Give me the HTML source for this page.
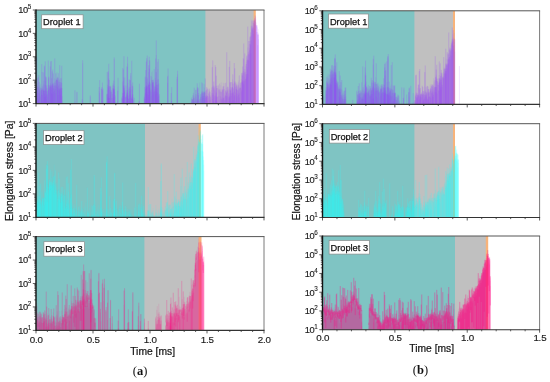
<!DOCTYPE html>
<html><head><meta charset="utf-8"><title>Elongation stress</title>
<style>html,body{margin:0;padding:0;background:#fff;}body{width:550px;height:382px;overflow:hidden;font-family:"Liberation Sans",sans-serif;}</style>
</head><body>
<svg width="550" height="382" viewBox="0 0 550 382" style="display:block">
<rect width="550" height="382" fill="#fff"/>
<g>
<rect x="36.0" y="10.0" width="219.80" height="93.60" fill="#f7b37a"/>
<rect x="36.0" y="10.0" width="217.60" height="93.60" fill="#c0c0c0"/>
<rect x="36.0" y="10.0" width="169.40" height="93.60" fill="#7fc4c3"/>
<path transform="translate(36.0 103.6)" d="M0.75 0v-12.9M1.25 0v-12.2M1.75 0v-10.2M2.25 0v-16.3M2.75 0v-9.4M3.25 0v-14.3M3.75 0v-13.9M4.25 0v-6.9M4.75 0v-19.7M5.25 0v-3.7M5.75 0v-8.8M6.25 0v-8.2M6.75 0v-1.9M7.25 0v-18.3M7.75 0v-12.3M8.25 0v-13.2M8.75 0v-12.4M9.25 0v-18.6M9.75 0v-26.3M10.25 0v-12.9M10.75 0v-3.8M11.25 0v-18.7M11.75 0v-6.7M12.25 0v-2.5M12.75 0v-26.1M13.25 0v-18.1M13.75 0v-14.3M14.25 0v-20.6M14.75 0v-18.6M15.25 0v-15.6M15.75 0v-17.6M16.25 0v-20.8M16.75 0v-18.3M17.25 0v-15.1M17.75 0v-15.6M18.25 0v-12.4M18.75 0v-18.5M19.25 0v-20.6M19.75 0v-10.4M20.25 0v-23.3M20.75 0v-23.7M21.25 0v-16.0M21.75 0v-22.7M22.25 0v-17.1M22.75 0v-21.8M23.25 0v-21.6M23.75 0v-15.0M24.25 0v-8.0M24.75 0v-9.2M25.25 0v-15.9M25.75 0v-15.3M71.25 0v-8.8M71.75 0v-18.9M72.25 0v-18.0M72.75 0v-7.8M73.25 0v-13.4M73.75 0v-16.8M74.25 0v-17.0M74.75 0v-8.4M75.25 0v-13.4M75.75 0v-1.2M76.25 0v-3.5M76.75 0v-20.5M77.25 0v-15.0M77.75 0v-15.1M78.25 0v-13.4M78.75 0v-11.2M79.25 0v-8.0M85.75 0v-6.0M86.25 0v-10.9M86.75 0v-21.4M87.25 0v-7.5M87.75 0v-17.7M88.75 0v-13.2M89.75 0v-18.2M90.25 0v-7.1M90.75 0v-17.3M91.25 0v-13.1M91.75 0v-20.2M92.25 0v-5.3M92.75 0v-4.7M93.25 0v-5.0M93.75 0v-12.1M94.25 0v-2.0M94.75 0v-19.2M95.25 0v-7.2M95.75 0v-6.0M96.25 0v-5.4M96.75 0v-6.7M97.25 0v-4.2M108.25 0v-6.6M108.75 0v-8.9M109.25 0v-10.4M109.75 0v-10.9M110.25 0v-18.4M110.75 0v-15.6M111.25 0v-18.2M111.75 0v-6.6M112.25 0v-8.9M112.75 0v-19.5M113.25 0v-15.0M113.75 0v-15.8M114.25 0v-11.0M114.75 0v-13.9M115.25 0v-27.4M115.75 0v-26.2M116.25 0v-23.6M116.75 0v-21.1M117.25 0v-23.3M117.75 0v-11.3M118.25 0v-12.4M118.75 0v-11.7M119.25 0v-17.4M119.75 0v-23.6M120.25 0v-11.8M120.75 0v-21.4M121.25 0v-23.7M121.75 0v-18.9M122.75 0v-4.0M155.25 0v-5.4M155.75 0v-4.5M156.25 0v-3.7M156.75 0v-3.8M157.25 0v-4.7M157.75 0v-10.9M158.25 0v-5.8M159.75 0v-13.5M160.25 0v-5.9M161.25 0v-15.3M161.75 0v-13.9M162.25 0v-3.7M162.75 0v-8.4M163.25 0v-2.6M164.75 0v-6.8M165.25 0v-12.0M166.25 0v-6.3M166.75 0v-10.4M167.25 0v-5.4M167.75 0v-10.8M168.25 0v-11.5M168.75 0v-10.0M169.25 0v-7.3M169.75 0v-5.9M170.25 0v-8.4M170.75 0v-7.7M171.25 0v-7.6M171.75 0v-7.4M172.25 0v-5.7M172.75 0v-13.9M173.25 0v-9.7M173.75 0v-3.5M174.25 0v-11.4M174.75 0v-8.1M175.75 0v-10.4M176.25 0v-16.4M176.75 0v-8.5M177.25 0v-18.3M177.75 0v-6.1M178.25 0v-14.9M178.75 0v-17.7M179.25 0v-8.7M179.75 0v-5.8M180.25 0v-3.3M180.75 0v-6.8M181.25 0v-6.8M182.25 0v-18.3M183.25 0v-14.4M183.75 0v-20.1M184.25 0v-14.6M184.75 0v-4.5M185.25 0v-7.0M185.75 0v-4.9M186.25 0v-13.0M186.75 0v-17.2M187.25 0v-5.8M187.75 0v-5.0M188.25 0v-14.4M188.75 0v-2.8M189.25 0v-8.1M189.75 0v-13.3M190.25 0v-10.7M190.75 0v-6.3M191.25 0v-12.9M191.75 0v-16.3M192.25 0v-6.7M192.75 0v-9.7M193.25 0v-1.8M193.75 0v-6.2M194.25 0v-13.2M194.75 0v-16.4M195.25 0v-7.3M195.75 0v-11.1M196.25 0v-10.5M196.75 0v-24.3M197.25 0v-19.7M197.75 0v-14.0M198.25 0v-8.0M198.75 0v-21.2M199.25 0v-2.3M199.75 0v-16.6M200.25 0v-14.2M200.75 0v-6.1M201.25 0v-10.0M201.75 0v-16.4M202.25 0v-9.4M202.75 0v-11.9M203.25 0v-14.9M203.75 0v-15.0M204.25 0v-15.5M204.75 0v-21.1M205.25 0v-11.5M205.75 0v-21.9M206.25 0v-30.7M206.75 0v-23.5M207.25 0v-19.9M207.75 0v-32.5M208.25 0v-22.1M208.75 0v-30.9M209.25 0v-34.0M209.75 0v-37.7M210.25 0v-29.1M210.75 0v-26.9M211.25 0v-36.7M211.75 0v-56.1M212.25 0v-51.3M212.75 0v-51.9M213.25 0v-59.2M213.75 0v-53.2M214.25 0v-59.2M214.75 0v-50.2M215.25 0v-68.0M215.75 0v-76.7M216.25 0v-83.3M216.75 0v-78.0M217.25 0v-69.6M217.75 0v-80.7M218.25 0v-79.4M218.75 0v-82.7M219.25 0v-88.5M219.75 0v-84.4M220.25 0v-78.7M220.75 0v-71.5M221.25 0v-78.5M221.75 0v-58.4M222.25 0v-74.4M38.95 0v-2.3M40.95 0v-11.2M46.15 0v-2.3M46.65 0v-40.3M54.25 0v-6.8M63.15 0v-12.1M63.65 0v-10.6M65.45 0v-14.7M65.95 0v-2.3M66.45 0v-13.7M66.95 0v-12.7M72.25 0v-30.7M72.75 0v-25.1M77.75 0v-14.6M78.25 0v-44.2M81.55 0v-2.3M82.05 0v-16.9M87.45 0v-26.2M87.95 0v-15.6M91.05 0v-36.7M91.55 0v-39.9M94.15 0v-22.9M94.65 0v-27.9M96.15 0v-3.8M96.65 0v-8.4M102.95 0v-2.3M103.45 0v-2.3M110.75 0v-43.2M111.25 0v-24.6M112.75 0v-31.4M113.25 0v-43.4M119.75 0v-36.6M120.25 0v-48.6M121.75 0v-34.6M122.25 0v-24.1M131.55 0v-20.8M132.05 0v-27.9M135.15 0v-2.3M135.65 0v-2.3M141.05 0v-24.5M141.55 0v-29.5" stroke="#9a3dff" stroke-width="0.5" stroke-opacity="0.21" fill="none"/>
<path transform="translate(36.0 103.6)" d="M0.75 0v-20.6M1.25 0v-16.9M1.75 0v-15.1M2.25 0v-7.2M2.75 0v-5.2M3.25 0v-16.2M3.75 0v-13.3M4.25 0v-1.6M4.75 0v-16.4M5.25 0v-15.1M5.75 0v-11.3M6.25 0v-17.6M6.75 0v-16.3M7.25 0v-3.6M7.75 0v-19.7M8.25 0v-6.4M8.75 0v-10.1M9.25 0v-13.9M9.75 0v-6.5M10.25 0v-18.2M10.75 0v-16.9M11.25 0v-12.1M11.75 0v-10.1M12.25 0v-13.4M12.75 0v-18.7M13.25 0v-18.0M13.75 0v-10.9M14.25 0v-17.6M14.75 0v-16.4M15.25 0v-13.5M15.75 0v-10.5M16.25 0v-9.2M16.75 0v-18.8M17.25 0v-11.7M17.75 0v-17.5M18.25 0v-14.3M18.75 0v-25.0M19.25 0v-22.2M19.75 0v-17.7M20.25 0v-24.7M20.75 0v-31.2M21.25 0v-23.2M21.75 0v-19.7M22.25 0v-8.5M22.75 0v-17.8M23.25 0v-12.2M23.75 0v-19.5M24.25 0v-15.9M24.75 0v-18.6M25.25 0v-25.7M25.75 0v-15.2M26.25 0v-7.4M70.75 0v-9.0M71.25 0v-9.9M71.75 0v-6.0M72.25 0v-16.8M72.75 0v-5.1M73.25 0v-5.0M73.75 0v-2.6M74.25 0v-16.8M74.75 0v-12.5M75.25 0v-11.4M75.75 0v-5.5M76.25 0v-5.2M76.75 0v-9.7M77.25 0v-3.8M77.75 0v-19.6M78.75 0v-8.6M79.25 0v-6.7M85.75 0v-5.7M86.25 0v-7.6M86.75 0v-5.3M87.25 0v-22.5M88.25 0v-14.8M88.75 0v-1.2M89.25 0v-6.6M89.75 0v-6.4M90.25 0v-3.0M90.75 0v-10.5M91.25 0v-13.3M91.75 0v-8.2M92.25 0v-10.1M92.75 0v-15.0M93.25 0v-16.9M93.75 0v-13.9M94.25 0v-16.6M94.75 0v-13.9M95.25 0v-5.2M95.75 0v-4.7M96.25 0v-13.8M96.75 0v-9.5M97.25 0v-3.2M108.25 0v-7.3M108.75 0v-16.6M109.25 0v-25.8M109.75 0v-14.4M110.25 0v-17.5M110.75 0v-16.9M111.25 0v-16.6M111.75 0v-10.9M112.25 0v-19.0M112.75 0v-18.7M113.25 0v-21.9M113.75 0v-21.1M114.25 0v-19.9M114.75 0v-19.2M115.25 0v-13.7M115.75 0v-31.5M116.25 0v-20.8M116.75 0v-17.7M117.25 0v-8.8M117.75 0v-18.2M118.25 0v-16.3M118.75 0v-17.6M119.25 0v-14.1M119.75 0v-20.8M120.25 0v-16.5M120.75 0v-19.1M121.25 0v-18.6M121.75 0v-6.5M122.25 0v-24.3M122.75 0v-7.7M155.25 0v-1.5M155.75 0v-6.6M156.25 0v-4.4M156.75 0v-8.4M157.25 0v-10.2M157.75 0v-8.5M158.75 0v-2.0M159.25 0v-7.0M160.25 0v-8.9M160.75 0v-3.9M161.25 0v-2.2M161.75 0v-15.8M162.25 0v-10.4M163.25 0v-4.1M163.75 0v-20.8M165.25 0v-4.3M166.75 0v-12.6M167.25 0v-9.1M167.75 0v-12.4M168.25 0v-16.1M168.75 0v-12.2M169.25 0v-7.4M169.75 0v-10.7M170.25 0v-6.3M170.75 0v-7.0M171.25 0v-8.1M171.75 0v-3.2M172.75 0v-6.9M173.25 0v-14.9M174.25 0v-4.2M174.75 0v-6.3M175.25 0v-13.4M176.25 0v-4.3M176.75 0v-10.7M177.25 0v-9.2M177.75 0v-2.0M178.25 0v-7.6M178.75 0v-16.5M179.25 0v-3.0M179.75 0v-13.3M180.25 0v-11.4M180.75 0v-15.6M181.25 0v-1.0M181.75 0v-6.6M182.25 0v-7.7M182.75 0v-14.8M183.25 0v-19.7M183.75 0v-13.2M184.25 0v-7.2M184.75 0v-18.3M185.25 0v-21.2M185.75 0v-3.4M186.25 0v-3.9M186.75 0v-6.1M187.25 0v-16.8M187.75 0v-5.4M188.25 0v-20.4M188.75 0v-6.5M189.25 0v-7.8M189.75 0v-12.6M190.25 0v-15.7M190.75 0v-11.2M191.25 0v-16.4M191.75 0v-17.3M192.25 0v-14.2M192.75 0v-10.7M193.25 0v-6.2M193.75 0v-7.7M194.25 0v-21.6M194.75 0v-13.9M195.25 0v-14.2M195.75 0v-9.8M196.25 0v-21.6M196.75 0v-3.1M197.25 0v-3.4M197.75 0v-11.9M198.25 0v-22.0M198.75 0v-17.2M199.25 0v-8.5M199.75 0v-20.7M200.25 0v-14.4M200.75 0v-18.6M201.25 0v-13.2M201.75 0v-19.7M202.25 0v-21.2M202.75 0v-8.4M203.25 0v-5.8M203.75 0v-15.9M204.25 0v-18.8M204.75 0v-20.8M205.25 0v-15.2M205.75 0v-13.1M206.25 0v-29.0M206.75 0v-31.7M207.25 0v-30.3M207.75 0v-44.4M208.25 0v-26.8M208.75 0v-22.7M209.25 0v-28.8M209.75 0v-24.2M210.25 0v-41.8M210.75 0v-29.3M211.25 0v-34.0M211.75 0v-29.7M212.25 0v-43.6M212.75 0v-48.7M213.25 0v-49.8M213.75 0v-66.1M214.25 0v-62.6M214.75 0v-59.7M215.25 0v-63.3M215.75 0v-75.2M216.25 0v-74.3M216.75 0v-77.0M217.25 0v-75.9M217.75 0v-72.7M218.25 0v-83.0M218.75 0v-74.7M219.25 0v-81.9M219.75 0v-78.9M220.25 0v-78.4M220.75 0v-77.4M221.25 0v-71.5M221.75 0v-69.2M222.25 0v-64.4" stroke="#9a3dff" stroke-width="0.5" stroke-opacity="0.21" fill="none"/>
<path transform="translate(36.0 103.6)" d="M0.75 0v-19.8M1.25 0v-1.7M1.75 0v-17.2M2.25 0v-3.4M2.75 0v-3.4M3.25 0v-10.3M3.75 0v-18.3M4.25 0v-12.5M4.75 0v-15.3M5.25 0v-15.0M5.75 0v-13.4M6.25 0v-14.8M6.75 0v-13.8M7.25 0v-14.3M7.75 0v-22.7M8.25 0v-12.5M8.75 0v-9.3M9.25 0v-23.1M9.75 0v-7.5M10.25 0v-11.9M10.75 0v-8.8M11.25 0v-8.7M11.75 0v-12.7M12.25 0v-15.1M12.75 0v-25.0M13.25 0v-16.0M13.75 0v-16.0M14.25 0v-17.6M14.75 0v-19.7M15.25 0v-18.5M15.75 0v-17.3M16.25 0v-19.4M16.75 0v-19.8M17.25 0v-20.2M17.75 0v-18.8M18.25 0v-9.8M18.75 0v-17.1M19.25 0v-13.8M19.75 0v-17.8M20.25 0v-23.4M20.75 0v-24.1M21.25 0v-27.0M21.75 0v-12.8M22.25 0v-15.6M22.75 0v-25.9M23.25 0v-14.3M23.75 0v-13.9M24.25 0v-15.1M24.75 0v-14.9M25.25 0v-12.0M25.75 0v-20.4M26.25 0v-3.1M70.75 0v-9.3M71.25 0v-13.3M71.75 0v-9.6M72.25 0v-15.4M72.75 0v-17.1M73.25 0v-5.2M73.75 0v-7.3M74.25 0v-10.8M74.75 0v-18.3M75.25 0v-13.8M75.75 0v-11.5M76.25 0v-9.5M76.75 0v-18.0M77.25 0v-18.3M77.75 0v-5.9M78.75 0v-14.1M86.25 0v-4.4M86.75 0v-10.0M87.25 0v-10.5M88.25 0v-16.7M88.75 0v-12.9M89.25 0v-5.9M89.75 0v-1.5M90.25 0v-8.3M90.75 0v-9.0M91.25 0v-6.0M91.75 0v-1.8M92.25 0v-7.4M92.75 0v-4.0M93.25 0v-15.9M93.75 0v-8.6M94.25 0v-9.2M95.75 0v-3.9M96.25 0v-8.9M108.25 0v-4.8M108.75 0v-4.3M109.25 0v-16.0M109.75 0v-15.1M110.25 0v-17.6M110.75 0v-21.4M111.25 0v-9.0M111.75 0v-16.9M112.25 0v-20.7M112.75 0v-17.8M113.25 0v-18.3M113.75 0v-21.2M114.25 0v-12.6M114.75 0v-27.7M115.25 0v-7.0M115.75 0v-11.2M116.25 0v-32.8M116.75 0v-20.3M117.25 0v-20.2M117.75 0v-21.4M118.25 0v-13.8M118.75 0v-16.1M119.25 0v-25.2M119.75 0v-9.2M120.25 0v-18.6M120.75 0v-15.1M121.25 0v-11.3M121.75 0v-15.3M122.25 0v-10.9M155.75 0v-0.8M156.25 0v-3.8M156.75 0v-2.7M157.25 0v-6.8M158.25 0v-2.6M159.25 0v-4.1M159.75 0v-9.5M161.25 0v-16.7M161.75 0v-3.7M162.25 0v-8.1M162.75 0v-10.4M163.75 0v-4.0M164.25 0v-5.1M164.75 0v-6.5M165.25 0v-8.9M165.75 0v-10.6M166.25 0v-11.5M166.75 0v-7.6M167.25 0v-7.5M167.75 0v-10.9M168.25 0v-19.4M168.75 0v-3.6M169.25 0v-5.4M169.75 0v-12.2M170.25 0v-3.1M170.75 0v-6.0M171.25 0v-14.8M172.25 0v-10.0M172.75 0v-10.9M173.25 0v-14.8M173.75 0v-7.9M174.75 0v-7.1M175.75 0v-15.9M177.75 0v-15.3M178.25 0v-13.1M179.75 0v-7.7M180.25 0v-10.2M180.75 0v-14.9M181.25 0v-15.6M181.75 0v-2.8M182.25 0v-17.8M182.75 0v-13.4M183.25 0v-3.7M184.25 0v-11.5M184.75 0v-12.4M185.25 0v-11.5M185.75 0v-11.5M186.25 0v-13.4M186.75 0v-13.7M187.25 0v-20.8M187.75 0v-14.4M188.25 0v-10.2M188.75 0v-3.6M189.25 0v-7.7M189.75 0v-12.8M190.25 0v-11.3M190.75 0v-7.6M191.25 0v-7.7M191.75 0v-12.8M192.25 0v-16.4M192.75 0v-4.8M193.25 0v-8.1M193.75 0v-15.1M194.25 0v-9.9M194.75 0v-12.7M195.25 0v-2.0M195.75 0v-15.6M196.25 0v-16.7M196.75 0v-20.1M197.25 0v-10.0M197.75 0v-11.3M198.25 0v-7.1M198.75 0v-20.2M199.25 0v-22.3M199.75 0v-11.1M200.25 0v-21.3M200.75 0v-15.3M201.25 0v-7.5M201.75 0v-13.4M202.25 0v-14.5M202.75 0v-22.9M203.25 0v-10.2M203.75 0v-16.8M204.25 0v-20.7M204.75 0v-16.1M205.25 0v-24.6M205.75 0v-20.7M206.25 0v-21.1M206.75 0v-22.1M207.25 0v-21.9M207.75 0v-19.3M208.25 0v-34.5M208.75 0v-31.4M209.25 0v-24.0M209.75 0v-31.8M210.25 0v-25.4M210.75 0v-46.0M211.25 0v-47.9M211.75 0v-44.6M212.25 0v-49.5M212.75 0v-42.6M213.25 0v-55.1M213.75 0v-62.2M214.25 0v-67.7M214.75 0v-57.9M215.25 0v-83.8M215.75 0v-82.3M216.25 0v-73.3M216.75 0v-82.8M217.25 0v-80.5M217.75 0v-82.1M218.25 0v-84.2M218.75 0v-83.5M219.25 0v-87.5M219.75 0v-86.8M220.25 0v-81.1M220.75 0v-78.1M221.25 0v-76.2M221.75 0v-68.9M222.25 0v-70.8" stroke="#9a3dff" stroke-width="0.5" stroke-opacity="0.21" fill="none"/>
<path transform="translate(36.0 103.6)" d="M0.75 0v-46.5M1.25 0v-25.2M2.25 0v-26.3M2.75 0v-28.6M3.25 0v-21.6M5.25 0v-13.5M5.75 0v-39.5M6.25 0v-31.6M7.25 0v-13.4M7.75 0v-31.1M8.25 0v-38.0M8.75 0v-37.0M9.25 0v-42.3M9.75 0v-27.2M10.25 0v-26.1M10.75 0v-15.4M12.25 0v-43.0M12.75 0v-26.8M14.25 0v-37.1M14.75 0v-42.0M15.25 0v-42.6M15.75 0v-25.3M16.25 0v-32.1M16.75 0v-34.0M17.25 0v-30.1M18.25 0v-20.9M18.75 0v-45.1M19.75 0v-30.2M21.25 0v-25.7M21.75 0v-25.9M22.25 0v-30.4M23.25 0v-23.9M23.75 0v-38.5M24.25 0v-21.4M24.75 0v-25.2M25.25 0v-21.1M25.75 0v-37.8M71.25 0v-31.6M73.25 0v-23.7M73.75 0v-17.4M74.75 0v-16.8M76.75 0v-15.1M77.75 0v-14.0M78.25 0v-17.4M79.75 0v-1.4M86.75 0v-35.6M87.75 0v-18.1M88.25 0v-11.7M88.75 0v-26.0M91.25 0v-11.2M93.25 0v-24.3M95.75 0v-42.8M96.75 0v-17.2M98.25 0v-5.8M109.25 0v-27.0M109.75 0v-33.5M110.25 0v-41.8M111.25 0v-26.0M113.25 0v-35.0M113.75 0v-42.9M116.25 0v-23.4M116.75 0v-21.6M117.25 0v-24.0M118.25 0v-34.4M120.25 0v-31.4M122.75 0v-19.8M123.25 0v-9.4M157.75 0v-5.5M158.25 0v-15.9M159.75 0v-13.9M161.25 0v-20.3M162.25 0v-15.9M164.75 0v-9.5M165.75 0v-21.2M166.25 0v-11.0M166.75 0v-20.2M168.25 0v-11.4M169.25 0v-25.1M170.25 0v-13.5M170.75 0v-16.5M171.25 0v-14.9M173.75 0v-12.2M176.25 0v-36.5M176.75 0v-43.2M177.25 0v-17.2M177.75 0v-22.0M179.25 0v-38.4M179.75 0v-36.6M180.25 0v-27.9M180.75 0v-17.8M186.25 0v-14.8M187.75 0v-17.4M189.75 0v-20.8M190.75 0v-51.3M193.25 0v-36.7M193.75 0v-42.7M194.25 0v-21.0M195.25 0v-21.6M196.25 0v-16.6M196.75 0v-29.2M197.25 0v-15.3M198.25 0v-40.6M198.75 0v-35.3M200.25 0v-19.2M200.75 0v-17.4M202.25 0v-18.3M203.25 0v-28.2M205.75 0v-30.7M206.25 0v-28.0M206.75 0v-37.1M207.25 0v-45.3M207.75 0v-60.1M208.75 0v-50.2M210.25 0v-39.6M210.75 0v-47.9M211.25 0v-43.3M211.75 0v-77.0M212.75 0v-62.6M214.25 0v-66.8M214.75 0v-71.2M215.25 0v-77.9M216.75 0v-75.3M217.75 0v-83.2M218.75 0v-85.5M222.25 0v-69.0M38.95 0v-13.3M40.95 0v-11.7M46.15 0v-4.3M46.65 0v-43.3M54.25 0v-8.2M63.15 0v-16.5M63.65 0v-23.4M65.45 0v-15.0M65.95 0v-16.6M66.45 0v-21.1M66.95 0v-15.0M72.25 0v-32.3M72.75 0v-39.8M77.75 0v-22.9M78.25 0v-46.1M81.55 0v-12.9M82.05 0v-25.7M87.45 0v-34.1M87.95 0v-47.5M91.05 0v-36.9M91.55 0v-46.8M94.15 0v-23.6M94.65 0v-30.4M96.15 0v-17.8M96.65 0v-21.1M102.95 0v-1.7M103.45 0v-19.9M110.75 0v-45.3M111.25 0v-48.0M112.75 0v-38.3M113.25 0v-46.8M119.75 0v-45.0M120.25 0v-63.2M121.75 0v-41.8M122.25 0v-44.5M131.55 0v-27.1M132.05 0v-35.1M135.15 0v-10.6M135.65 0v-16.4M141.05 0v-26.7M141.55 0v-32.8" stroke="#9a3dff" stroke-width="0.5" stroke-opacity="0.45" fill="none"/>
<path d="M264.0 10.0V103.6" fill="none" stroke="#7a7a7a" stroke-width="1"/>
<path d="M36.0 10.0H264.5" fill="none" stroke="#555" stroke-width="1"/>
<path d="M36.0 103.6H264.5" fill="none" stroke="#333" stroke-width="1.1"/>
<path d="M36.0 9.5V104.1" fill="none" stroke="#111" stroke-width="1.4"/>
<path d="M32.8 103.60H36.0M34.3 96.56H36.0M34.3 92.44H36.0M34.3 89.51H36.0M34.3 87.24H36.0M34.3 85.39H36.0M34.3 83.82H36.0M34.3 82.47H36.0M34.3 81.27H36.0M32.8 80.20H36.0M34.3 73.16H36.0M34.3 69.04H36.0M34.3 66.11H36.0M34.3 63.84H36.0M34.3 61.99H36.0M34.3 60.42H36.0M34.3 59.07H36.0M34.3 57.87H36.0M32.8 56.80H36.0M34.3 49.76H36.0M34.3 45.64H36.0M34.3 42.71H36.0M34.3 40.44H36.0M34.3 38.59H36.0M34.3 37.02H36.0M34.3 35.67H36.0M34.3 34.47H36.0M32.8 33.40H36.0M34.3 26.36H36.0M34.3 22.24H36.0M34.3 19.31H36.0M34.3 17.04H36.0M34.3 15.19H36.0M34.3 13.62H36.0M34.3 12.27H36.0M34.3 11.07H36.0M32.8 10.00H36.0" stroke="#1a1a1a" stroke-width="0.7" fill="none"/>
<path d="M36.00 103.6v3.0M47.40 103.6v1.6M58.80 103.6v1.6M70.20 103.6v1.6M81.60 103.6v1.6M93.00 103.6v3.0M104.40 103.6v1.6M115.80 103.6v1.6M127.20 103.6v1.6M138.60 103.6v1.6M150.00 103.6v3.0M161.40 103.6v1.6M172.80 103.6v1.6M184.20 103.6v1.6M195.60 103.6v1.6M207.00 103.6v3.0M218.40 103.6v1.6M229.80 103.6v1.6M241.20 103.6v1.6M252.60 103.6v1.6M264.00 103.6v3.0" stroke="#333" stroke-width="0.8" fill="none"/>
<text x="18.2" y="106.9" font-family="Liberation Sans, sans-serif" font-size="9.3" letter-spacing="-0.3" fill="#1a1a1a" stroke="#1a1a1a" stroke-width="0.15">10</text>
<text x="27.8" y="102.7" font-family="Liberation Sans, sans-serif" font-size="6.3" fill="#1a1a1a" stroke="#1a1a1a" stroke-width="0.1">1</text>
<text x="18.2" y="83.5" font-family="Liberation Sans, sans-serif" font-size="9.3" letter-spacing="-0.3" fill="#1a1a1a" stroke="#1a1a1a" stroke-width="0.15">10</text>
<text x="27.8" y="79.3" font-family="Liberation Sans, sans-serif" font-size="6.3" fill="#1a1a1a" stroke="#1a1a1a" stroke-width="0.1">2</text>
<text x="18.2" y="60.1" font-family="Liberation Sans, sans-serif" font-size="9.3" letter-spacing="-0.3" fill="#1a1a1a" stroke="#1a1a1a" stroke-width="0.15">10</text>
<text x="27.8" y="55.9" font-family="Liberation Sans, sans-serif" font-size="6.3" fill="#1a1a1a" stroke="#1a1a1a" stroke-width="0.1">3</text>
<text x="18.2" y="36.7" font-family="Liberation Sans, sans-serif" font-size="9.3" letter-spacing="-0.3" fill="#1a1a1a" stroke="#1a1a1a" stroke-width="0.15">10</text>
<text x="27.8" y="32.5" font-family="Liberation Sans, sans-serif" font-size="6.3" fill="#1a1a1a" stroke="#1a1a1a" stroke-width="0.1">4</text>
<text x="18.2" y="13.3" font-family="Liberation Sans, sans-serif" font-size="9.3" letter-spacing="-0.3" fill="#1a1a1a" stroke="#1a1a1a" stroke-width="0.15">10</text>
<text x="27.8" y="9.1" font-family="Liberation Sans, sans-serif" font-size="6.3" fill="#1a1a1a" stroke="#1a1a1a" stroke-width="0.1">5</text>
<rect x="41.7" y="14.8" width="41.4" height="13.9" fill="#fff" stroke="#8a8a8a" stroke-width="0.7"/>
<text x="43.1" y="25.2" font-family="Liberation Sans, sans-serif" font-size="9.25" fill="#111" stroke="#111" stroke-width="0.25">Droplet 1</text>
</g>
<g>
<rect x="36.0" y="123.4" width="164.80" height="94.00" fill="#f7b37a"/>
<rect x="36.0" y="123.4" width="162.60" height="94.00" fill="#c0c0c0"/>
<rect x="36.0" y="123.4" width="109.00" height="94.00" fill="#7fc4c3"/>
<path transform="translate(36.0 217.4)" d="M0.75 0v-14.3M1.25 0v-6.0M1.75 0v-10.7M2.25 0v-18.4M2.75 0v-16.2M3.25 0v-13.4M3.75 0v-7.2M4.25 0v-15.9M4.75 0v-13.6M5.25 0v-11.1M5.75 0v-16.2M6.25 0v-16.0M6.75 0v-27.2M7.25 0v-18.9M7.75 0v-12.0M8.25 0v-19.6M8.75 0v-18.9M9.25 0v-29.1M9.75 0v-18.0M10.25 0v-16.4M10.75 0v-22.5M11.25 0v-15.6M11.75 0v-22.3M12.25 0v-14.7M12.75 0v-30.3M13.25 0v-29.4M13.75 0v-32.0M14.25 0v-27.6M14.75 0v-29.0M15.25 0v-45.2M15.75 0v-33.5M16.25 0v-34.4M16.75 0v-35.0M17.25 0v-32.5M17.75 0v-32.3M18.25 0v-52.8M18.75 0v-27.5M19.25 0v-31.5M19.75 0v-26.7M20.25 0v-27.4M20.75 0v-26.9M21.25 0v-25.0M21.75 0v-18.3M22.25 0v-27.8M22.75 0v-19.0M23.25 0v-16.9M23.75 0v-22.5M24.25 0v-14.8M24.75 0v-26.0M25.25 0v-20.8M25.75 0v-23.0M26.25 0v-15.1M26.75 0v-9.6M27.25 0v-22.7M27.75 0v-18.2M28.25 0v-14.5M28.75 0v-11.6M29.25 0v-10.5M29.75 0v-8.9M30.25 0v-23.2M30.75 0v-13.9M31.25 0v-8.6M31.75 0v-17.4M32.25 0v-11.5M32.75 0v-4.4M33.25 0v-14.4M33.75 0v-5.0M34.25 0v-1.7M34.75 0v-8.7M35.25 0v-8.7M35.75 0v-9.6M36.25 0v-14.4M36.75 0v-8.8M37.75 0v-3.8M38.25 0v-5.5M38.75 0v-11.3M39.25 0v-3.8M40.25 0v-1.5M41.75 0v-6.8M42.25 0v-6.8M43.25 0v-2.3M43.75 0v-11.3M44.25 0v-4.6M45.75 0v-9.4M46.75 0v-1.0M47.25 0v-5.4M47.75 0v-0.8M49.25 0v-2.4M49.75 0v-10.2M50.75 0v-0.9M51.25 0v-2.3M52.25 0v-3.1M52.75 0v-6.9M53.25 0v-9.8M53.75 0v-17.5M54.75 0v-2.4M55.75 0v-12.4M56.25 0v-7.0M57.25 0v-1.4M59.25 0v-11.8M59.75 0v-16.2M60.75 0v-3.0M61.75 0v-0.7M62.25 0v-7.4M62.75 0v-2.1M63.25 0v-6.3M64.25 0v-1.2M64.75 0v-4.6M66.25 0v-7.6M69.75 0v-8.2M70.25 0v-1.2M71.25 0v-2.0M72.75 0v-4.3M73.25 0v-2.5M78.75 0v-15.6M79.25 0v-1.4M80.25 0v-2.3M80.75 0v-11.1M81.25 0v-7.6M81.75 0v-3.2M82.75 0v-1.8M83.75 0v-10.8M84.25 0v-11.8M84.75 0v-4.6M85.25 0v-3.5M86.25 0v-8.9M87.25 0v-1.6M88.25 0v-3.2M88.75 0v-5.7M89.75 0v-8.9M90.25 0v-10.6M91.75 0v-2.1M92.75 0v-7.9M93.25 0v-7.9M94.25 0v-8.3M94.75 0v-5.0M95.25 0v-7.7M95.75 0v-1.5M99.25 0v-3.2M100.75 0v-10.2M103.25 0v-1.5M103.75 0v-2.7M104.25 0v-1.7M104.75 0v-10.2M105.25 0v-10.3M105.75 0v-8.4M106.25 0v-7.8M106.75 0v-6.8M107.25 0v-1.6M110.25 0v-2.6M110.75 0v-1.8M111.75 0v-7.3M113.25 0v-3.6M114.75 0v-3.2M116.75 0v-5.0M117.25 0v-2.8M118.25 0v-1.8M119.25 0v-2.1M120.25 0v-7.7M120.75 0v-1.6M121.75 0v-4.4M122.25 0v-6.9M123.25 0v-3.2M123.75 0v-2.0M124.25 0v-5.6M125.25 0v-9.2M125.75 0v-5.3M126.25 0v-2.8M127.75 0v-1.6M128.25 0v-5.8M129.25 0v-7.1M129.75 0v-6.4M130.75 0v-14.0M131.25 0v-7.7M131.75 0v-11.6M132.75 0v-12.8M133.25 0v-4.0M133.75 0v-2.5M134.25 0v-2.6M134.75 0v-7.7M135.25 0v-8.5M135.75 0v-19.0M136.75 0v-14.5M137.75 0v-4.0M138.25 0v-6.4M139.25 0v-13.0M139.75 0v-18.6M140.25 0v-12.2M140.75 0v-13.5M141.25 0v-18.0M141.75 0v-9.5M142.25 0v-11.3M142.75 0v-16.9M143.25 0v-15.5M143.75 0v-3.7M144.25 0v-5.4M144.75 0v-10.3M145.25 0v-17.7M145.75 0v-16.2M146.25 0v-9.0M146.75 0v-11.8M147.25 0v-17.1M147.75 0v-24.6M148.25 0v-21.5M148.75 0v-19.6M149.25 0v-18.1M149.75 0v-25.7M150.25 0v-6.9M150.75 0v-17.7M151.25 0v-23.5M151.75 0v-19.1M152.25 0v-29.6M152.75 0v-20.0M153.25 0v-34.7M153.75 0v-33.7M154.25 0v-40.4M154.75 0v-27.6M155.25 0v-40.5M155.75 0v-28.5M156.25 0v-29.0M156.75 0v-39.4M157.25 0v-48.7M157.75 0v-40.0M158.25 0v-46.9M158.75 0v-55.0M159.25 0v-49.9M159.75 0v-68.6M160.25 0v-61.9M160.75 0v-63.0M161.25 0v-67.0M161.75 0v-64.6M162.25 0v-66.0M162.75 0v-66.0M163.25 0v-74.2M163.75 0v-90.1M164.25 0v-83.1M164.75 0v-86.2M165.25 0v-78.2M165.75 0v-73.5M166.25 0v-75.3M166.75 0v-73.3M167.25 0v-57.1M167.75 0v-46.7M10.75 0v-52.7M11.25 0v-48.5M34.75 0v-47.3M35.25 0v-39.7M57.75 0v-11.2M58.25 0v-40.6M64.75 0v-23.0M65.25 0v-26.0M70.55 0v-54.0M71.05 0v-57.6M78.15 0v-2.4M78.65 0v-43.7M124.75 0v-15.9M125.25 0v-52.6" stroke="#30fbfb" stroke-width="0.5" stroke-opacity="0.22" fill="none"/>
<path transform="translate(36.0 217.4)" d="M0.75 0v-13.4M1.25 0v-22.3M2.25 0v-14.2M2.75 0v-14.1M3.25 0v-21.1M3.75 0v-25.7M4.25 0v-22.9M4.75 0v-17.6M5.25 0v-15.3M5.75 0v-25.4M6.25 0v-18.6M6.75 0v-18.7M7.25 0v-19.0M7.75 0v-20.3M8.25 0v-16.1M8.75 0v-24.5M9.25 0v-19.6M9.75 0v-19.3M10.25 0v-13.7M10.75 0v-15.3M11.25 0v-30.4M11.75 0v-32.6M12.25 0v-27.6M12.75 0v-27.5M13.25 0v-38.2M13.75 0v-32.0M14.25 0v-27.1M14.75 0v-17.5M15.25 0v-32.0M15.75 0v-39.6M16.25 0v-31.8M16.75 0v-31.1M17.25 0v-35.8M17.75 0v-33.0M18.25 0v-23.3M18.75 0v-25.1M19.25 0v-33.0M19.75 0v-29.1M20.25 0v-22.6M20.75 0v-23.7M21.25 0v-35.0M21.75 0v-11.0M22.25 0v-26.6M22.75 0v-28.7M23.25 0v-21.4M23.75 0v-18.5M24.25 0v-14.9M24.75 0v-15.2M25.25 0v-15.2M25.75 0v-24.4M26.25 0v-16.9M26.75 0v-16.4M27.25 0v-3.3M27.75 0v-22.8M28.25 0v-7.4M28.75 0v-28.3M29.25 0v-22.0M29.75 0v-17.4M30.25 0v-13.8M30.75 0v-10.9M31.25 0v-1.4M31.75 0v-17.5M32.25 0v-4.6M32.75 0v-8.5M33.25 0v-10.5M33.75 0v-20.3M34.25 0v-4.0M34.75 0v-13.3M35.25 0v-1.9M36.25 0v-3.3M36.75 0v-2.9M37.25 0v-12.5M37.75 0v-9.5M39.25 0v-5.1M39.75 0v-9.3M40.25 0v-10.3M40.75 0v-6.7M41.25 0v-2.0M42.25 0v-2.7M42.75 0v-8.7M43.25 0v-2.2M43.75 0v-5.5M44.25 0v-1.4M44.75 0v-1.4M45.75 0v-1.1M46.75 0v-9.2M47.75 0v-3.0M48.25 0v-11.1M49.25 0v-1.7M49.75 0v-15.0M51.25 0v-6.1M51.75 0v-3.9M54.25 0v-1.4M55.25 0v-1.7M55.75 0v-0.9M56.25 0v-3.0M56.75 0v-2.4M58.25 0v-12.9M58.75 0v-10.0M59.75 0v-1.4M60.25 0v-6.8M60.75 0v-6.4M61.25 0v-5.1M61.75 0v-10.2M62.25 0v-3.0M62.75 0v-12.8M63.25 0v-0.8M64.25 0v-7.7M65.75 0v-9.5M67.25 0v-4.8M67.75 0v-8.6M68.25 0v-4.4M68.75 0v-7.8M70.25 0v-3.0M70.75 0v-1.3M71.25 0v-3.4M71.75 0v-2.0M72.25 0v-0.9M72.75 0v-6.9M73.75 0v-3.8M74.25 0v-5.7M74.75 0v-1.7M75.75 0v-5.1M77.75 0v-5.8M78.25 0v-18.6M78.75 0v-11.4M79.25 0v-6.6M80.25 0v-7.8M80.75 0v-7.9M83.25 0v-0.7M84.25 0v-4.4M85.25 0v-2.2M85.75 0v-8.8M86.25 0v-11.0M87.25 0v-4.7M89.25 0v-7.3M89.75 0v-6.1M90.75 0v-1.0M91.25 0v-5.6M91.75 0v-2.2M92.25 0v-5.1M93.25 0v-3.5M96.25 0v-2.4M98.25 0v-5.0M99.25 0v-7.8M101.25 0v-1.5M102.25 0v-11.1M102.75 0v-3.2M103.75 0v-5.0M105.25 0v-6.7M106.25 0v-13.1M106.75 0v-2.7M107.25 0v-2.7M109.75 0v-4.7M110.75 0v-1.8M112.75 0v-7.0M115.75 0v-4.0M116.25 0v-4.7M116.75 0v-2.0M117.25 0v-9.4M118.25 0v-2.3M119.75 0v-12.4M120.25 0v-3.8M121.25 0v-1.1M121.75 0v-1.6M122.75 0v-9.0M123.25 0v-1.8M124.25 0v-4.4M124.75 0v-5.6M125.25 0v-3.3M125.75 0v-10.2M127.25 0v-3.5M127.75 0v-5.3M131.25 0v-4.3M131.75 0v-2.4M132.25 0v-10.4M132.75 0v-3.7M133.25 0v-9.5M133.75 0v-5.8M134.25 0v-11.9M134.75 0v-4.7M135.25 0v-2.7M135.75 0v-9.7M136.25 0v-8.9M136.75 0v-10.7M137.25 0v-9.6M137.75 0v-2.9M138.25 0v-14.6M138.75 0v-14.4M139.25 0v-15.0M139.75 0v-9.9M140.25 0v-11.3M140.75 0v-14.3M141.25 0v-6.0M141.75 0v-13.8M142.25 0v-13.9M142.75 0v-11.1M143.25 0v-12.2M143.75 0v-10.7M144.25 0v-16.3M144.75 0v-10.9M145.25 0v-20.5M145.75 0v-9.2M146.25 0v-23.1M146.75 0v-24.2M147.25 0v-22.1M147.75 0v-26.6M148.25 0v-18.4M148.75 0v-17.3M149.25 0v-31.1M149.75 0v-24.5M150.25 0v-20.9M150.75 0v-10.7M151.25 0v-22.7M151.75 0v-11.5M152.25 0v-34.9M152.75 0v-28.2M153.25 0v-30.9M153.75 0v-31.0M154.25 0v-37.6M154.75 0v-30.7M155.25 0v-31.9M155.75 0v-34.3M156.25 0v-39.8M156.75 0v-44.2M157.25 0v-45.7M157.75 0v-46.6M158.25 0v-50.9M158.75 0v-56.5M159.25 0v-49.4M159.75 0v-46.0M160.25 0v-60.4M160.75 0v-62.9M161.25 0v-55.4M161.75 0v-70.4M162.25 0v-71.6M162.75 0v-64.6M163.25 0v-76.2M163.75 0v-74.7M164.25 0v-85.4M164.75 0v-66.4M165.25 0v-74.9M165.75 0v-65.9M166.25 0v-73.1M166.75 0v-61.7M167.25 0v-60.7M167.75 0v-57.4" stroke="#30fbfb" stroke-width="0.5" stroke-opacity="0.22" fill="none"/>
<path transform="translate(36.0 217.4)" d="M0.75 0v-16.7M1.25 0v-15.8M1.75 0v-15.4M2.25 0v-14.5M2.75 0v-11.8M3.25 0v-7.5M3.75 0v-12.9M4.25 0v-17.2M4.75 0v-13.5M5.25 0v-12.7M6.25 0v-19.8M6.75 0v-15.3M7.25 0v-12.9M7.75 0v-19.3M8.25 0v-9.7M8.75 0v-20.4M9.25 0v-12.7M9.75 0v-24.8M10.25 0v-33.1M10.75 0v-26.9M11.25 0v-29.0M11.75 0v-23.8M12.25 0v-25.8M12.75 0v-22.3M13.25 0v-33.1M13.75 0v-37.8M14.25 0v-35.0M14.75 0v-32.6M15.25 0v-32.2M15.75 0v-30.1M16.25 0v-46.4M16.75 0v-34.7M17.25 0v-36.3M17.75 0v-40.6M18.25 0v-43.0M18.75 0v-24.3M19.25 0v-33.9M19.75 0v-27.2M20.25 0v-34.0M20.75 0v-30.4M21.25 0v-20.8M21.75 0v-15.7M22.25 0v-17.1M22.75 0v-21.0M23.25 0v-19.1M23.75 0v-3.9M24.25 0v-23.4M24.75 0v-20.8M25.25 0v-18.1M25.75 0v-19.1M26.25 0v-21.1M26.75 0v-25.0M27.25 0v-17.3M27.75 0v-7.0M28.25 0v-28.5M28.75 0v-27.8M29.25 0v-9.9M29.75 0v-8.5M30.25 0v-9.4M30.75 0v-17.1M31.25 0v-19.4M31.75 0v-15.1M32.25 0v-13.0M32.75 0v-13.7M33.75 0v-9.0M34.25 0v-4.2M35.25 0v-9.2M35.75 0v-11.4M36.25 0v-2.0M36.75 0v-4.6M37.25 0v-7.0M37.75 0v-1.5M38.25 0v-4.2M38.75 0v-13.6M39.75 0v-1.6M40.25 0v-8.1M40.75 0v-1.6M41.75 0v-1.7M43.25 0v-3.4M43.75 0v-5.8M44.25 0v-6.2M44.75 0v-7.0M46.25 0v-4.4M46.75 0v-8.0M47.25 0v-6.0M47.75 0v-4.3M48.25 0v-3.0M48.75 0v-6.2M50.75 0v-1.7M51.75 0v-5.6M52.25 0v-6.8M52.75 0v-4.5M54.75 0v-7.7M55.25 0v-5.8M55.75 0v-2.7M56.25 0v-2.4M58.25 0v-2.1M59.75 0v-3.9M61.25 0v-7.9M61.75 0v-3.5M62.25 0v-2.2M62.75 0v-1.9M63.75 0v-8.7M64.75 0v-16.5M65.25 0v-10.0M65.75 0v-1.1M66.25 0v-6.2M67.75 0v-0.8M68.25 0v-1.7M69.25 0v-5.3M70.25 0v-2.4M70.75 0v-1.8M71.25 0v-8.8M71.75 0v-3.5M72.25 0v-8.5M72.75 0v-2.0M74.25 0v-17.8M75.25 0v-6.9M75.75 0v-4.0M76.25 0v-8.6M78.25 0v-3.9M78.75 0v-1.5M79.25 0v-1.7M79.75 0v-9.1M80.25 0v-1.3M81.75 0v-6.2M82.25 0v-9.0M82.75 0v-5.2M83.25 0v-12.7M83.75 0v-8.9M84.25 0v-2.1M84.75 0v-12.0M85.25 0v-2.3M86.25 0v-1.5M87.75 0v-1.6M88.25 0v-8.6M88.75 0v-2.0M89.25 0v-2.8M89.75 0v-5.7M90.75 0v-5.8M91.75 0v-8.6M92.75 0v-1.7M93.25 0v-6.5M93.75 0v-5.2M94.25 0v-2.8M94.75 0v-3.8M95.75 0v-1.8M96.25 0v-2.9M100.25 0v-7.1M101.25 0v-3.8M101.75 0v-1.1M102.25 0v-7.2M102.75 0v-5.9M104.75 0v-13.0M105.25 0v-9.3M106.25 0v-4.8M107.75 0v-1.6M108.25 0v-5.1M110.25 0v-1.2M111.75 0v-3.4M112.75 0v-12.1M113.25 0v-7.3M114.25 0v-2.3M114.75 0v-4.5M115.25 0v-4.7M115.75 0v-2.8M116.25 0v-5.7M116.75 0v-6.6M119.75 0v-4.8M120.25 0v-2.5M120.75 0v-4.6M122.25 0v-2.4M123.25 0v-4.8M123.75 0v-0.8M124.75 0v-10.7M125.25 0v-1.1M126.25 0v-6.6M126.75 0v-9.6M127.75 0v-3.9M128.25 0v-1.0M129.25 0v-8.0M129.75 0v-5.4M130.25 0v-7.5M130.75 0v-9.4M131.25 0v-7.8M132.25 0v-5.3M133.25 0v-0.7M134.25 0v-4.3M134.75 0v-4.9M135.25 0v-8.5M135.75 0v-14.9M136.25 0v-5.5M136.75 0v-15.4M137.25 0v-4.8M137.75 0v-15.8M138.25 0v-11.1M138.75 0v-7.3M139.25 0v-2.2M139.75 0v-4.3M140.25 0v-15.2M140.75 0v-10.8M141.25 0v-8.2M141.75 0v-7.8M142.25 0v-1.6M142.75 0v-16.2M143.25 0v-11.1M143.75 0v-11.4M144.25 0v-3.0M144.75 0v-11.9M145.25 0v-31.3M145.75 0v-14.8M146.25 0v-3.1M146.75 0v-13.6M147.25 0v-18.7M147.75 0v-24.4M148.25 0v-17.7M148.75 0v-17.6M149.25 0v-24.5M149.75 0v-17.8M150.25 0v-27.8M150.75 0v-15.1M151.25 0v-25.2M151.75 0v-28.0M152.25 0v-28.8M152.75 0v-26.1M153.25 0v-32.9M153.75 0v-21.0M154.25 0v-28.5M154.75 0v-35.4M155.25 0v-42.0M155.75 0v-35.4M156.25 0v-40.0M156.75 0v-34.0M157.25 0v-34.4M157.75 0v-45.7M158.25 0v-45.7M158.75 0v-53.2M159.25 0v-49.5M159.75 0v-56.3M160.25 0v-56.2M160.75 0v-59.6M161.25 0v-64.0M161.75 0v-60.5M162.25 0v-71.6M162.75 0v-75.2M163.25 0v-76.5M163.75 0v-75.1M164.25 0v-78.0M164.75 0v-81.6M165.25 0v-73.9M165.75 0v-74.1M166.25 0v-66.7M166.75 0v-66.5M167.25 0v-65.5M167.75 0v-52.7" stroke="#30fbfb" stroke-width="0.5" stroke-opacity="0.22" fill="none"/>
<path transform="translate(36.0 217.4)" d="M0.75 0v-31.1M1.75 0v-17.6M2.25 0v-21.0M2.75 0v-44.8M3.25 0v-18.6M3.75 0v-31.9M4.75 0v-33.8M6.75 0v-19.9M8.75 0v-37.1M9.25 0v-26.1M9.75 0v-24.9M10.25 0v-48.5M11.75 0v-51.9M13.25 0v-37.7M13.75 0v-35.8M14.25 0v-35.5M14.75 0v-48.0M15.25 0v-35.8M17.25 0v-40.8M18.25 0v-41.3M19.25 0v-47.1M22.75 0v-45.0M23.25 0v-38.9M23.75 0v-24.9M25.25 0v-30.4M25.75 0v-23.6M26.75 0v-30.5M28.75 0v-21.9M30.25 0v-40.2M31.25 0v-41.1M32.25 0v-34.2M32.75 0v-25.8M34.75 0v-19.0M35.25 0v-22.7M37.75 0v-9.1M38.75 0v-7.3M40.75 0v-32.6M42.75 0v-10.9M45.25 0v-6.2M45.75 0v-16.3M51.25 0v-29.7M52.25 0v-4.3M56.25 0v-11.4M65.75 0v-5.8M73.75 0v-21.3M74.75 0v-9.7M75.25 0v-4.4M77.25 0v-17.1M77.75 0v-4.4M78.75 0v-14.3M80.25 0v-16.9M86.25 0v-15.3M86.75 0v-34.8M87.25 0v-6.7M89.25 0v-11.6M93.75 0v-2.6M98.75 0v-10.0M99.75 0v-34.4M102.75 0v-13.0M103.25 0v-13.8M105.75 0v-21.6M106.75 0v-4.3M107.25 0v-11.5M109.25 0v-2.6M111.75 0v-6.3M112.25 0v-30.3M112.75 0v-6.3M113.75 0v-13.2M114.75 0v-13.3M129.25 0v-10.6M130.25 0v-14.7M131.25 0v-15.2M131.75 0v-26.2M133.25 0v-12.1M134.25 0v-12.8M134.75 0v-8.3M138.25 0v-43.2M138.75 0v-20.7M139.75 0v-12.6M140.25 0v-25.6M141.75 0v-14.5M142.25 0v-15.5M142.75 0v-18.0M144.25 0v-15.5M144.75 0v-39.5M145.25 0v-20.8M146.25 0v-48.6M147.25 0v-23.7M148.25 0v-31.1M149.75 0v-40.4M151.25 0v-55.4M153.25 0v-45.0M154.75 0v-34.9M155.25 0v-53.8M157.25 0v-48.3M157.75 0v-70.6M158.75 0v-57.9M159.25 0v-57.6M161.75 0v-72.5M162.25 0v-81.9M162.75 0v-77.9M163.25 0v-75.3M164.25 0v-87.0M166.25 0v-82.0M166.75 0v-83.2M10.75 0v-52.7M11.25 0v-56.4M34.75 0v-48.0M35.25 0v-58.3M57.75 0v-12.9M58.25 0v-42.3M64.75 0v-29.5M65.25 0v-40.0M70.55 0v-55.1M71.05 0v-61.1M78.15 0v-18.4M78.65 0v-44.6M124.75 0v-36.2M125.25 0v-54.0" stroke="#30fbfb" stroke-width="0.5" stroke-opacity="0.5" fill="none"/>
<path d="M264.0 123.4V217.4" fill="none" stroke="#7a7a7a" stroke-width="1"/>
<path d="M36.0 123.4H264.5" fill="none" stroke="#555" stroke-width="1"/>
<path d="M36.0 217.4H264.5" fill="none" stroke="#333" stroke-width="1.1"/>
<path d="M36.0 122.9V217.9" fill="none" stroke="#111" stroke-width="1.4"/>
<path d="M32.8 217.40H36.0M34.3 210.33H36.0M34.3 206.19H36.0M34.3 203.25H36.0M34.3 200.97H36.0M34.3 199.11H36.0M34.3 197.54H36.0M34.3 196.18H36.0M34.3 194.98H36.0M32.8 193.90H36.0M34.3 186.83H36.0M34.3 182.69H36.0M34.3 179.75H36.0M34.3 177.47H36.0M34.3 175.61H36.0M34.3 174.04H36.0M34.3 172.68H36.0M34.3 171.48H36.0M32.8 170.40H36.0M34.3 163.33H36.0M34.3 159.19H36.0M34.3 156.25H36.0M34.3 153.97H36.0M34.3 152.11H36.0M34.3 150.54H36.0M34.3 149.18H36.0M34.3 147.98H36.0M32.8 146.90H36.0M34.3 139.83H36.0M34.3 135.69H36.0M34.3 132.75H36.0M34.3 130.47H36.0M34.3 128.61H36.0M34.3 127.04H36.0M34.3 125.68H36.0M34.3 124.48H36.0M32.8 123.40H36.0" stroke="#1a1a1a" stroke-width="0.7" fill="none"/>
<path d="M36.00 217.4v3.0M47.40 217.4v1.6M58.80 217.4v1.6M70.20 217.4v1.6M81.60 217.4v1.6M93.00 217.4v3.0M104.40 217.4v1.6M115.80 217.4v1.6M127.20 217.4v1.6M138.60 217.4v1.6M150.00 217.4v3.0M161.40 217.4v1.6M172.80 217.4v1.6M184.20 217.4v1.6M195.60 217.4v1.6M207.00 217.4v3.0M218.40 217.4v1.6M229.80 217.4v1.6M241.20 217.4v1.6M252.60 217.4v1.6M264.00 217.4v3.0" stroke="#333" stroke-width="0.8" fill="none"/>
<text x="18.2" y="220.7" font-family="Liberation Sans, sans-serif" font-size="9.3" letter-spacing="-0.3" fill="#1a1a1a" stroke="#1a1a1a" stroke-width="0.15">10</text>
<text x="27.8" y="216.5" font-family="Liberation Sans, sans-serif" font-size="6.3" fill="#1a1a1a" stroke="#1a1a1a" stroke-width="0.1">1</text>
<text x="18.2" y="197.2" font-family="Liberation Sans, sans-serif" font-size="9.3" letter-spacing="-0.3" fill="#1a1a1a" stroke="#1a1a1a" stroke-width="0.15">10</text>
<text x="27.8" y="193.0" font-family="Liberation Sans, sans-serif" font-size="6.3" fill="#1a1a1a" stroke="#1a1a1a" stroke-width="0.1">2</text>
<text x="18.2" y="173.7" font-family="Liberation Sans, sans-serif" font-size="9.3" letter-spacing="-0.3" fill="#1a1a1a" stroke="#1a1a1a" stroke-width="0.15">10</text>
<text x="27.8" y="169.5" font-family="Liberation Sans, sans-serif" font-size="6.3" fill="#1a1a1a" stroke="#1a1a1a" stroke-width="0.1">3</text>
<text x="18.2" y="150.2" font-family="Liberation Sans, sans-serif" font-size="9.3" letter-spacing="-0.3" fill="#1a1a1a" stroke="#1a1a1a" stroke-width="0.15">10</text>
<text x="27.8" y="146.0" font-family="Liberation Sans, sans-serif" font-size="6.3" fill="#1a1a1a" stroke="#1a1a1a" stroke-width="0.1">4</text>
<text x="18.2" y="126.7" font-family="Liberation Sans, sans-serif" font-size="9.3" letter-spacing="-0.3" fill="#1a1a1a" stroke="#1a1a1a" stroke-width="0.15">10</text>
<text x="27.8" y="122.5" font-family="Liberation Sans, sans-serif" font-size="6.3" fill="#1a1a1a" stroke="#1a1a1a" stroke-width="0.1">5</text>
<rect x="43.6" y="130.7" width="40.4" height="13.7" fill="#fff" stroke="#8a8a8a" stroke-width="0.7"/>
<text x="45.0" y="141.1" font-family="Liberation Sans, sans-serif" font-size="9.25" fill="#111" stroke="#111" stroke-width="0.25">Droplet 2</text>
</g>
<g>
<rect x="36.0" y="236.6" width="165.50" height="93.80" fill="#f7b37a"/>
<rect x="36.0" y="236.6" width="162.60" height="93.80" fill="#c0c0c0"/>
<rect x="36.0" y="236.6" width="108.40" height="93.80" fill="#7fc4c3"/>
<path transform="translate(36.0 330.4)" d="M0.75 0v-27.5M1.25 0v-17.3M1.75 0v-10.3M2.25 0v-6.8M2.75 0v-5.3M3.25 0v-14.1M3.75 0v-14.8M4.25 0v-18.2M4.75 0v-17.0M5.25 0v-17.5M5.75 0v-10.3M6.25 0v-12.3M6.75 0v-7.3M7.25 0v-7.5M7.75 0v-17.3M8.25 0v-16.2M8.75 0v-12.0M9.25 0v-18.8M9.75 0v-3.7M10.25 0v-6.9M10.75 0v-10.4M11.25 0v-16.9M11.75 0v-3.0M12.25 0v-10.2M12.75 0v-7.8M13.25 0v-5.6M13.75 0v-10.7M14.25 0v-10.2M14.75 0v-13.3M15.25 0v-7.3M15.75 0v-15.4M16.25 0v-9.0M16.75 0v-8.9M17.25 0v-11.1M17.75 0v-13.7M18.25 0v-13.1M18.75 0v-4.5M19.25 0v-14.1M19.75 0v-4.9M20.25 0v-3.6M20.75 0v-5.2M21.25 0v-19.1M21.75 0v-12.7M22.25 0v-9.0M22.75 0v-8.2M23.25 0v-5.0M23.75 0v-9.5M24.25 0v-14.0M24.75 0v-3.1M25.25 0v-7.0M25.75 0v-10.8M26.25 0v-10.2M26.75 0v-9.1M27.25 0v-12.3M27.75 0v-10.7M28.25 0v-12.5M28.75 0v-16.7M29.25 0v-16.2M29.75 0v-23.7M30.25 0v-8.6M30.75 0v-12.9M31.25 0v-4.6M31.75 0v-6.4M32.25 0v-13.7M32.75 0v-22.7M33.25 0v-20.1M33.75 0v-16.7M34.25 0v-18.8M34.75 0v-14.1M35.25 0v-21.1M35.75 0v-24.6M36.25 0v-24.4M36.75 0v-23.3M37.25 0v-17.6M37.75 0v-15.1M38.25 0v-26.4M38.75 0v-20.7M39.25 0v-19.4M39.75 0v-16.7M40.25 0v-19.7M40.75 0v-29.0M41.25 0v-30.3M41.75 0v-25.2M42.25 0v-28.2M42.75 0v-21.9M43.25 0v-27.8M43.75 0v-18.7M44.25 0v-30.3M44.75 0v-34.0M45.25 0v-27.0M45.75 0v-24.5M46.25 0v-32.9M46.75 0v-26.9M47.25 0v-31.0M47.75 0v-29.4M48.25 0v-36.1M48.75 0v-37.0M49.25 0v-40.2M49.75 0v-24.6M50.25 0v-32.6M50.75 0v-35.5M51.25 0v-48.2M51.75 0v-32.0M52.25 0v-33.6M52.75 0v-27.2M53.25 0v-21.2M53.75 0v-33.3M54.25 0v-29.6M54.75 0v-25.5M55.25 0v-17.8M55.75 0v-31.4M56.25 0v-22.2M56.75 0v-26.7M57.25 0v-21.2M57.75 0v-24.7M58.25 0v-21.1M58.75 0v-7.5M119.75 0v-11.5M120.25 0v-6.5M120.75 0v-20.5M121.25 0v-24.2M121.75 0v-13.4M122.25 0v-17.6M122.75 0v-11.7M123.25 0v-12.1M123.75 0v-16.3M124.25 0v-13.6M124.75 0v-9.7M125.25 0v-9.9M129.75 0v-5.3M130.25 0v-16.6M130.75 0v-11.7M131.25 0v-4.5M131.75 0v-7.7M132.25 0v-14.6M132.75 0v-8.1M133.25 0v-17.3M133.75 0v-14.5M134.25 0v-7.4M134.75 0v-4.6M135.25 0v-14.9M135.75 0v-13.8M136.25 0v-12.8M136.75 0v-17.2M137.25 0v-13.4M137.75 0v-16.9M138.25 0v-21.5M138.75 0v-15.8M139.25 0v-8.7M139.75 0v-20.9M140.25 0v-17.3M140.75 0v-10.0M141.25 0v-22.0M141.75 0v-17.8M142.25 0v-15.6M142.75 0v-15.6M143.25 0v-17.4M143.75 0v-24.5M144.25 0v-23.2M144.75 0v-17.8M145.25 0v-20.1M145.75 0v-20.1M146.25 0v-31.3M146.75 0v-22.4M147.25 0v-18.9M147.75 0v-22.2M148.25 0v-20.6M148.75 0v-28.0M149.25 0v-24.5M149.75 0v-26.0M150.25 0v-24.8M150.75 0v-22.2M151.25 0v-18.1M151.75 0v-23.8M152.25 0v-27.0M152.75 0v-28.2M153.25 0v-32.6M153.75 0v-38.5M154.25 0v-34.1M154.75 0v-28.5M155.25 0v-31.6M155.75 0v-33.0M156.25 0v-35.4M156.75 0v-42.3M157.25 0v-37.2M157.75 0v-37.8M158.25 0v-47.2M158.75 0v-52.8M159.25 0v-65.3M159.75 0v-70.7M160.25 0v-76.6M160.75 0v-80.6M161.25 0v-78.6M161.75 0v-78.3M162.25 0v-78.3M162.75 0v-91.9M163.25 0v-76.6M163.75 0v-70.9M164.25 0v-89.4M164.75 0v-86.2M165.25 0v-74.1M165.75 0v-85.5M166.25 0v-83.5M166.75 0v-60.8M167.25 0v-65.5M167.75 0v-67.3M47.15 0v-57.8M47.65 0v-47.2M54.55 0v-40.1M55.05 0v-59.9M62.40 0v-36.3M62.90 0v-56.5M63.40 0v-37.1M64.45 0v-18.1M64.95 0v-9.1M66.25 0v-37.8M66.75 0v-47.6M67.95 0v-29.5M68.45 0v-45.8M69.75 0v-18.6M70.25 0v-19.5M71.55 0v-10.6M72.05 0v-39.7M74.05 0v-3.4M74.55 0v-29.6M76.25 0v-7.1M82.15 0v-2.3M82.65 0v-2.3M88.05 0v-25.6M88.55 0v-30.0M91.80 0v-2.3M92.30 0v-8.5M92.80 0v-2.3M96.35 0v-18.5M96.85 0v-37.1M102.25 0v-5.1M102.75 0v-24.5M104.35 0v-4.6M104.85 0v-15.9M108.45 0v-7.6M112.25 0v-2.3M134.45 0v-2.3M134.95 0v-27.6" stroke="#ff0a85" stroke-width="0.5" stroke-opacity="0.2" fill="none"/>
<path transform="translate(36.0 330.4)" d="M0.75 0v-14.8M1.25 0v-12.1M1.75 0v-10.9M2.25 0v-18.4M2.75 0v-9.2M3.25 0v-13.0M3.75 0v-10.0M4.25 0v-14.7M4.75 0v-13.6M5.25 0v-8.6M5.75 0v-11.9M6.25 0v-10.1M6.75 0v-13.3M7.25 0v-7.5M7.75 0v-17.3M8.25 0v-13.6M8.75 0v-8.9M9.25 0v-16.2M9.75 0v-10.3M10.25 0v-11.2M10.75 0v-7.6M11.25 0v-4.0M11.75 0v-4.7M12.25 0v-9.0M12.75 0v-15.0M13.25 0v-7.5M13.75 0v-11.4M14.25 0v-11.6M14.75 0v-6.7M15.25 0v-7.0M15.75 0v-11.6M16.25 0v-8.0M16.75 0v-6.6M17.25 0v-17.9M17.75 0v-2.8M18.25 0v-9.7M18.75 0v-5.0M19.25 0v-4.6M20.25 0v-12.9M20.75 0v-7.7M21.25 0v-14.6M21.75 0v-4.2M22.25 0v-8.3M22.75 0v-2.4M23.25 0v-7.3M23.75 0v-19.4M24.25 0v-11.6M24.75 0v-9.0M25.25 0v-7.2M25.75 0v-19.6M26.25 0v-6.9M26.75 0v-10.3M27.25 0v-12.9M27.75 0v-13.0M28.25 0v-21.3M28.75 0v-16.2M29.25 0v-6.3M29.75 0v-8.2M30.25 0v-22.6M30.75 0v-11.3M31.25 0v-13.2M31.75 0v-19.1M32.25 0v-15.9M32.75 0v-21.4M33.25 0v-15.0M33.75 0v-20.7M34.25 0v-15.8M34.75 0v-19.6M35.25 0v-21.4M35.75 0v-29.1M36.25 0v-22.5M36.75 0v-20.0M37.25 0v-14.2M37.75 0v-23.9M38.25 0v-16.3M38.75 0v-26.0M39.25 0v-24.3M39.75 0v-22.6M40.25 0v-26.3M40.75 0v-23.3M41.25 0v-20.6M41.75 0v-21.2M42.25 0v-34.7M42.75 0v-19.4M43.25 0v-26.7M43.75 0v-25.7M44.25 0v-29.1M44.75 0v-28.7M45.25 0v-26.7M45.75 0v-29.5M46.25 0v-21.6M46.75 0v-34.3M47.25 0v-37.6M47.75 0v-27.9M48.25 0v-21.6M48.75 0v-30.5M49.25 0v-29.3M49.75 0v-28.6M50.25 0v-27.9M50.75 0v-39.4M51.25 0v-28.6M51.75 0v-30.2M52.25 0v-32.3M52.75 0v-23.4M53.25 0v-34.0M53.75 0v-27.7M54.25 0v-30.8M54.75 0v-25.5M55.25 0v-23.2M55.75 0v-21.0M56.25 0v-23.5M56.75 0v-24.0M57.25 0v-23.3M57.75 0v-25.0M58.25 0v-20.9M58.75 0v-2.9M119.75 0v-13.3M120.25 0v-2.8M120.75 0v-9.0M121.25 0v-5.8M121.75 0v-10.4M122.25 0v-10.7M122.75 0v-13.6M123.25 0v-10.2M123.75 0v-14.3M124.25 0v-6.5M124.75 0v-14.3M125.25 0v-15.4M129.75 0v-4.0M130.25 0v-10.2M130.75 0v-7.9M131.25 0v-9.8M131.75 0v-3.4M132.25 0v-10.4M133.25 0v-12.1M133.75 0v-4.3M134.25 0v-15.2M134.75 0v-11.6M135.25 0v-19.7M135.75 0v-13.6M136.25 0v-8.0M136.75 0v-14.4M137.25 0v-16.0M137.75 0v-20.3M138.25 0v-18.4M138.75 0v-12.3M139.25 0v-14.0M139.75 0v-11.6M140.25 0v-17.4M140.75 0v-12.2M141.25 0v-16.9M141.75 0v-17.6M142.25 0v-22.0M142.75 0v-17.2M143.25 0v-14.9M143.75 0v-13.6M144.25 0v-20.0M144.75 0v-10.8M145.25 0v-18.1M145.75 0v-21.0M146.25 0v-20.3M146.75 0v-17.9M147.25 0v-23.1M147.75 0v-25.3M148.25 0v-33.6M148.75 0v-28.4M149.25 0v-21.2M149.75 0v-24.0M150.25 0v-17.3M150.75 0v-29.4M151.25 0v-16.7M151.75 0v-26.2M152.25 0v-21.2M152.75 0v-28.8M153.25 0v-24.6M153.75 0v-28.1M154.25 0v-29.7M154.75 0v-30.6M155.25 0v-38.1M155.75 0v-45.7M156.25 0v-35.0M156.75 0v-46.6M157.25 0v-42.1M157.75 0v-49.9M158.25 0v-47.4M158.75 0v-55.0M159.25 0v-74.8M159.75 0v-66.8M160.25 0v-73.3M160.75 0v-68.8M161.25 0v-69.9M161.75 0v-77.5M162.25 0v-78.9M162.75 0v-82.4M163.25 0v-82.5M163.75 0v-78.6M164.25 0v-77.6M164.75 0v-76.8M165.25 0v-75.1M165.75 0v-76.1M166.25 0v-81.8M166.75 0v-71.6M167.25 0v-68.0M167.75 0v-69.7" stroke="#ff0a85" stroke-width="0.5" stroke-opacity="0.2" fill="none"/>
<path transform="translate(36.0 330.4)" d="M0.75 0v-17.6M1.25 0v-10.0M1.75 0v-13.1M2.25 0v-13.2M2.75 0v-7.4M3.25 0v-8.1M3.75 0v-8.9M4.25 0v-18.7M4.75 0v-12.2M5.25 0v-7.1M5.75 0v-13.0M6.25 0v-7.6M6.75 0v-9.4M7.25 0v-11.1M7.75 0v-8.7M8.25 0v-9.0M8.75 0v-11.8M9.25 0v-12.9M9.75 0v-11.7M10.25 0v-3.1M10.75 0v-14.6M11.25 0v-12.7M11.75 0v-6.4M12.25 0v-6.9M12.75 0v-3.9M13.25 0v-16.6M13.75 0v-11.4M14.25 0v-7.3M14.75 0v-8.7M15.25 0v-14.5M15.75 0v-12.0M16.25 0v-8.1M16.75 0v-9.4M17.25 0v-6.0M17.75 0v-13.9M18.25 0v-7.4M18.75 0v-8.2M19.25 0v-9.1M19.75 0v-2.1M20.25 0v-7.9M20.75 0v-15.7M21.25 0v-2.7M21.75 0v-1.3M22.25 0v-4.5M22.75 0v-8.0M23.25 0v-9.5M23.75 0v-9.3M24.25 0v-3.4M24.75 0v-14.2M25.25 0v-7.3M25.75 0v-13.0M26.25 0v-11.4M26.75 0v-13.2M27.25 0v-13.5M27.75 0v-13.4M28.25 0v-12.1M28.75 0v-16.0M29.25 0v-11.0M29.75 0v-11.2M30.25 0v-12.0M30.75 0v-12.8M31.25 0v-14.2M31.75 0v-15.9M32.25 0v-14.4M32.75 0v-14.9M33.25 0v-9.6M33.75 0v-9.5M34.25 0v-14.6M34.75 0v-22.0M35.25 0v-21.7M35.75 0v-13.4M36.25 0v-14.0M36.75 0v-19.0M37.25 0v-24.8M37.75 0v-14.1M38.25 0v-20.2M38.75 0v-18.4M39.25 0v-24.1M39.75 0v-25.2M40.25 0v-17.5M40.75 0v-27.8M41.25 0v-24.2M41.75 0v-23.1M42.25 0v-16.5M42.75 0v-21.7M43.25 0v-19.3M43.75 0v-20.8M44.25 0v-32.2M44.75 0v-34.0M45.25 0v-24.8M45.75 0v-21.1M46.25 0v-28.5M46.75 0v-35.6M47.25 0v-30.8M47.75 0v-24.8M48.25 0v-31.1M48.75 0v-32.9M49.25 0v-40.4M49.75 0v-24.4M50.25 0v-29.5M50.75 0v-29.4M51.25 0v-24.5M51.75 0v-33.1M52.25 0v-22.2M52.75 0v-35.0M53.25 0v-29.7M53.75 0v-37.4M54.25 0v-34.8M54.75 0v-30.4M55.25 0v-30.8M55.75 0v-25.2M56.25 0v-30.8M56.75 0v-23.7M57.25 0v-17.5M57.75 0v-11.8M58.25 0v-19.8M58.75 0v-12.3M119.75 0v-12.6M120.25 0v-14.3M120.75 0v-5.7M121.25 0v-7.0M121.75 0v-6.4M122.25 0v-16.4M122.75 0v-26.6M123.25 0v-18.2M123.75 0v-12.5M124.25 0v-5.8M124.75 0v-6.4M125.25 0v-14.5M129.75 0v-4.9M130.25 0v-7.0M130.75 0v-8.4M131.25 0v-11.9M131.75 0v-9.5M132.25 0v-15.0M132.75 0v-8.4M133.25 0v-7.5M133.75 0v-9.4M134.25 0v-6.1M134.75 0v-14.8M135.25 0v-19.6M135.75 0v-14.1M136.25 0v-17.3M136.75 0v-15.0M137.25 0v-7.0M137.75 0v-8.4M138.25 0v-16.8M138.75 0v-7.4M139.25 0v-17.1M139.75 0v-15.0M140.25 0v-21.7M140.75 0v-16.1M141.25 0v-20.8M141.75 0v-15.4M142.25 0v-12.9M142.75 0v-15.4M143.25 0v-33.5M143.75 0v-13.7M144.25 0v-20.5M144.75 0v-14.8M145.25 0v-16.6M145.75 0v-18.8M146.25 0v-16.6M146.75 0v-26.2M147.25 0v-23.3M147.75 0v-28.9M148.25 0v-13.2M148.75 0v-21.4M149.25 0v-18.9M149.75 0v-15.9M150.25 0v-20.7M150.75 0v-22.6M151.25 0v-23.1M151.75 0v-22.1M152.25 0v-20.6M152.75 0v-27.6M153.25 0v-26.3M153.75 0v-21.8M154.25 0v-34.2M154.75 0v-28.7M155.25 0v-34.5M155.75 0v-40.8M156.25 0v-37.1M156.75 0v-50.0M157.25 0v-48.4M157.75 0v-49.8M158.25 0v-53.4M158.75 0v-50.9M159.25 0v-65.7M159.75 0v-72.3M160.25 0v-61.7M160.75 0v-77.1M161.25 0v-74.6M161.75 0v-83.9M162.25 0v-83.4M162.75 0v-79.0M163.25 0v-77.1M163.75 0v-73.4M164.25 0v-71.1M164.75 0v-73.8M165.25 0v-78.0M165.75 0v-77.8M166.25 0v-79.4M166.75 0v-73.1M167.25 0v-69.1M167.75 0v-65.6" stroke="#ff0a85" stroke-width="0.5" stroke-opacity="0.2" fill="none"/>
<path transform="translate(36.0 330.4)" d="M0.75 0v-24.1M2.25-3.6V-16.5M3.75 0v-18.7M5.25 0v-16.2M6.25-9.8V-13.3M7.25 0v-18.2M7.75 0v-15.7M8.75 0v-20.0M10.25 0v-38.8M10.75 0v-23.8M12.25 0v-15.1M12.75 0v-22.3M15.25 0v-21.4M17.25 0v-14.5M17.75-7.0V-21.9M18.25 0v-12.9M20.25 0v-25.2M21.75 0v-39.1M22.25 0v-35.4M23.75-0.0V-13.0M26.25 0v-37.9M26.75-6.1V-15.2M27.25 0v-13.5M28.75-8.5V-25.5M29.25 0v-18.9M29.75 0v-34.7M30.25 0v-31.4M30.75-12.4V-18.5M31.25-6.9V-46.2M33.25 0v-25.4M34.75-12.2V-20.3M35.25 0v-45.0M35.75-14.2V-24.3M36.25-16.3V-27.2M37.25-16.6V-34.5M37.75-7.7V-27.6M38.25-14.9V-23.7M38.75-3.6V-42.0M39.25-18.0V-34.4M39.75-12.7V-30.5M40.25 0v-24.9M41.25 0v-42.9M41.75-23.3V-41.0M42.25-17.1V-28.6M42.75 0v-39.8M43.25-22.5V-29.8M44.25-9.6V-28.8M44.75-21.3V-30.4M45.25-9.7V-55.5M45.75 0v-29.6M46.25-25.9V-34.0M46.75-25.1V-50.9M47.25-0.0V-41.0M48.25 0v-59.4M48.75-23.5V-59.3M49.75-23.4V-50.1M50.25-26.9V-34.7M50.75-29.2V-37.4M51.25-29.0V-36.2M51.75-23.3V-39.4M52.75-30.7V-35.3M53.25-30.8V-57.1M54.25-20.7V-31.8M54.75-8.2V-51.7M55.25-26.7V-40.3M55.75-18.1V-37.3M56.25-22.1V-27.1M56.75-21.8V-25.2M58.75-3.2V-12.6M59.25 0v-7.7M59.75 0v-12.0M129.75-7.9V-15.0M130.75-4.4V-30.4M131.25-4.0V-16.1M132.25-0.0V-19.5M133.75-0.0V-17.9M134.25-0.0V-18.2M134.75-0.0V-16.5M135.25 0v-17.5M136.25 0v-22.9M137.25 0v-37.6M138.25-5.2V-17.2M138.75 0v-28.4M139.25-8.6V-25.7M139.75-3.9V-29.1M140.25-10.7V-24.2M140.75-14.1V-22.5M141.25 0v-25.6M142.25-8.2V-42.1M142.75-10.2V-20.3M143.25-17.2V-21.4M143.75-0.0V-20.3M144.75-18.5V-21.3M145.75-15.5V-49.5M146.25-11.8V-22.0M147.25 0v-39.0M147.75-14.4V-26.3M148.25-10.8V-26.4M150.75-21.9V-26.2M151.25-8.7V-32.6M151.75-22.6V-33.4M153.25-18.8V-34.7M154.25-22.0V-34.4M155.25 0v-51.9M156.25 0v-39.5M156.75-21.9V-41.6M157.25-29.3V-50.3M157.75-42.9V-45.4M158.75-53.0V-60.8M159.25-43.9V-67.6M159.75-59.8V-76.5M160.25-70.5V-79.1M162.75-58.2V-87.9M164.25 0v-88.2M165.75 0v-88.0M166.25 0v-84.7M166.75-60.2V-71.7M167.25-57.4V-68.4M167.75 0v-73.8M47.15 0v-59.3M47.65 0v-65.9M54.55 0v-40.4M55.05 0v-60.5M62.40 0v-49.1M62.90 0v-57.5M63.40 0v-37.7M64.45 0v-21.5M64.95 0v-28.1M66.25 0v-46.7M66.75 0v-50.9M67.95 0v-42.6M68.45 0v-51.6M69.75 0v-20.5M70.25 0v-23.4M71.55 0v-27.7M72.05 0v-40.3M74.05 0v-12.4M74.55 0v-30.5M76.25 0v-14.1M82.15 0v-9.6M82.65 0v-21.1M88.05 0v-39.8M88.55 0v-42.2M91.80 0v-7.5M92.30 0v-21.1M92.80 0v-8.3M96.35 0v-19.2M96.85 0v-38.2M102.25 0v-14.2M102.75 0v-27.7M104.35 0v-9.2M104.85 0v-16.4M108.45 0v-11.7M112.25 0v-9.4M134.45 0v-26.3M134.95 0v-32.8" stroke="#ff0a85" stroke-width="0.5" stroke-opacity="0.5" fill="none"/>
<path d="M264.0 236.6V330.4" fill="none" stroke="#7a7a7a" stroke-width="1"/>
<path d="M36.0 236.6H264.5" fill="none" stroke="#555" stroke-width="1"/>
<path d="M36.0 330.4H264.5" fill="none" stroke="#333" stroke-width="1.1"/>
<path d="M36.0 236.1V330.9" fill="none" stroke="#111" stroke-width="1.4"/>
<path d="M32.8 330.40H36.0M34.3 323.34H36.0M34.3 319.21H36.0M34.3 316.28H36.0M34.3 314.01H36.0M34.3 312.15H36.0M34.3 310.58H36.0M34.3 309.22H36.0M34.3 308.02H36.0M32.8 306.95H36.0M34.3 299.89H36.0M34.3 295.76H36.0M34.3 292.83H36.0M34.3 290.56H36.0M34.3 288.70H36.0M34.3 287.13H36.0M34.3 285.77H36.0M34.3 284.57H36.0M32.8 283.50H36.0M34.3 276.44H36.0M34.3 272.31H36.0M34.3 269.38H36.0M34.3 267.11H36.0M34.3 265.25H36.0M34.3 263.68H36.0M34.3 262.32H36.0M34.3 261.12H36.0M32.8 260.05H36.0M34.3 252.99H36.0M34.3 248.86H36.0M34.3 245.93H36.0M34.3 243.66H36.0M34.3 241.80H36.0M34.3 240.23H36.0M34.3 238.87H36.0M34.3 237.67H36.0M32.8 236.60H36.0" stroke="#1a1a1a" stroke-width="0.7" fill="none"/>
<path d="M36.00 330.4v3.0M47.40 330.4v1.6M58.80 330.4v1.6M70.20 330.4v1.6M81.60 330.4v1.6M93.00 330.4v3.0M104.40 330.4v1.6M115.80 330.4v1.6M127.20 330.4v1.6M138.60 330.4v1.6M150.00 330.4v3.0M161.40 330.4v1.6M172.80 330.4v1.6M184.20 330.4v1.6M195.60 330.4v1.6M207.00 330.4v3.0M218.40 330.4v1.6M229.80 330.4v1.6M241.20 330.4v1.6M252.60 330.4v1.6M264.00 330.4v3.0" stroke="#333" stroke-width="0.8" fill="none"/>
<text x="18.2" y="333.7" font-family="Liberation Sans, sans-serif" font-size="9.3" letter-spacing="-0.3" fill="#1a1a1a" stroke="#1a1a1a" stroke-width="0.15">10</text>
<text x="27.8" y="329.5" font-family="Liberation Sans, sans-serif" font-size="6.3" fill="#1a1a1a" stroke="#1a1a1a" stroke-width="0.1">1</text>
<text x="18.2" y="310.2" font-family="Liberation Sans, sans-serif" font-size="9.3" letter-spacing="-0.3" fill="#1a1a1a" stroke="#1a1a1a" stroke-width="0.15">10</text>
<text x="27.8" y="306.1" font-family="Liberation Sans, sans-serif" font-size="6.3" fill="#1a1a1a" stroke="#1a1a1a" stroke-width="0.1">2</text>
<text x="18.2" y="286.8" font-family="Liberation Sans, sans-serif" font-size="9.3" letter-spacing="-0.3" fill="#1a1a1a" stroke="#1a1a1a" stroke-width="0.15">10</text>
<text x="27.8" y="282.6" font-family="Liberation Sans, sans-serif" font-size="6.3" fill="#1a1a1a" stroke="#1a1a1a" stroke-width="0.1">3</text>
<text x="18.2" y="263.3" font-family="Liberation Sans, sans-serif" font-size="9.3" letter-spacing="-0.3" fill="#1a1a1a" stroke="#1a1a1a" stroke-width="0.15">10</text>
<text x="27.8" y="259.1" font-family="Liberation Sans, sans-serif" font-size="6.3" fill="#1a1a1a" stroke="#1a1a1a" stroke-width="0.1">4</text>
<text x="18.2" y="239.9" font-family="Liberation Sans, sans-serif" font-size="9.3" letter-spacing="-0.3" fill="#1a1a1a" stroke="#1a1a1a" stroke-width="0.15">10</text>
<text x="27.8" y="235.7" font-family="Liberation Sans, sans-serif" font-size="6.3" fill="#1a1a1a" stroke="#1a1a1a" stroke-width="0.1">5</text>
<rect x="43.9" y="241.7" width="40.7" height="14.5" fill="#fff" stroke="#8a8a8a" stroke-width="0.7"/>
<text x="45.2" y="252.4" font-family="Liberation Sans, sans-serif" font-size="9.25" fill="#111" stroke="#111" stroke-width="0.25">Droplet 3</text>
</g>
<g>
<rect x="322.5" y="10.8" width="132.50" height="93.60" fill="#f7b37a"/>
<rect x="322.5" y="10.8" width="130.50" height="93.60" fill="#c0c0c0"/>
<rect x="322.5" y="10.8" width="91.90" height="93.60" fill="#7fc4c3"/>
<path transform="translate(322.5 104.4)" d="M3.25 0v-14.1M3.75 0v-15.1M4.25 0v-22.9M4.75 0v-19.2M5.25 0v-28.6M5.75 0v-30.7M6.25 0v-19.3M6.75 0v-16.4M7.25 0v-24.4M7.75 0v-19.2M8.25 0v-19.7M8.75 0v-26.8M9.25 0v-25.7M9.75 0v-23.2M10.25 0v-34.0M10.75 0v-38.2M11.25 0v-33.6M11.75 0v-26.5M12.25 0v-27.0M12.75 0v-19.8M13.25 0v-30.1M13.75 0v-25.5M14.25 0v-24.3M14.75 0v-21.1M15.25 0v-21.0M15.75 0v-15.5M16.25 0v-16.7M16.75 0v-8.0M17.25 0v-15.1M17.75 0v-11.9M18.25 0v-15.3M18.75 0v-9.0M19.25 0v-15.0M19.75 0v-7.1M20.25 0v-5.4M20.75 0v-11.6M21.25 0v-13.1M21.75 0v-9.6M22.25 0v-7.6M22.75 0v-16.9M34.75 0v-12.3M35.25 0v-9.6M36.25 0v-13.1M36.75 0v-10.7M37.25 0v-8.8M37.75 0v-3.8M38.25 0v-1.6M38.75 0v-4.5M39.25 0v-6.1M39.75 0v-15.0M40.25 0v-7.6M40.75 0v-4.9M41.25 0v-6.2M41.75 0v-14.9M42.25 0v-10.2M42.75 0v-9.9M43.25 0v-3.6M43.75 0v-22.6M44.25 0v-17.7M44.75 0v-6.9M45.25 0v-12.8M45.75 0v-10.5M46.25 0v-11.2M46.75 0v-15.0M47.25 0v-8.5M47.75 0v-18.2M48.25 0v-16.8M48.75 0v-13.0M49.25 0v-14.4M49.75 0v-16.3M50.25 0v-17.6M50.75 0v-23.3M51.25 0v-6.8M51.75 0v-16.3M52.25 0v-20.6M52.75 0v-15.0M53.25 0v-16.8M53.75 0v-20.3M54.25 0v-14.1M54.75 0v-6.7M55.25 0v-14.1M55.75 0v-20.9M56.25 0v-15.9M56.75 0v-17.5M57.25 0v-13.3M57.75 0v-12.7M58.25 0v-19.1M58.75 0v-10.9M59.25 0v-16.2M59.75 0v-18.4M60.25 0v-19.9M60.75 0v-12.0M61.25 0v-16.7M61.75 0v-12.9M62.25 0v-13.2M62.75 0v-11.1M63.25 0v-11.7M63.75 0v-4.9M64.25 0v-10.0M64.75 0v-17.0M65.25 0v-17.8M65.75 0v-16.6M66.25 0v-15.8M66.75 0v-8.9M67.25 0v-11.6M67.75 0v-13.9M68.25 0v-16.1M68.75 0v-15.6M69.25 0v-8.4M69.75 0v-11.9M70.25 0v-14.2M70.75 0v-11.7M71.25 0v-9.8M71.75 0v-18.7M72.25 0v-11.2M72.75 0v-11.8M73.25 0v-6.9M73.75 0v-7.0M74.25 0v-2.6M74.75 0v-9.9M75.25 0v-6.5M76.25 0v-8.9M76.75 0v-1.3M92.25 0v-2.6M92.75 0v-9.8M93.25 0v-11.5M93.75 0v-2.6M94.25 0v-6.0M94.75 0v-3.6M95.25 0v-16.5M95.75 0v-1.1M96.25 0v-19.4M96.75 0v-1.0M97.25 0v-9.2M97.75 0v-4.9M98.25 0v-8.6M98.75 0v-10.0M99.25 0v-10.8M99.75 0v-9.7M100.25 0v-9.2M100.75 0v-4.4M101.25 0v-5.5M101.75 0v-7.0M102.25 0v-18.0M102.75 0v-7.4M103.25 0v-10.3M103.75 0v-9.0M104.25 0v-9.9M104.75 0v-6.5M105.25 0v-5.5M105.75 0v-11.9M106.25 0v-10.6M106.75 0v-12.6M107.75 0v-20.1M108.25 0v-6.2M108.75 0v-11.8M109.25 0v-18.2M109.75 0v-17.3M110.25 0v-13.2M110.75 0v-9.2M111.25 0v-26.2M111.75 0v-13.9M112.25 0v-12.1M112.75 0v-17.4M113.25 0v-14.9M113.75 0v-17.2M114.25 0v-25.8M114.75 0v-23.3M115.25 0v-25.8M115.75 0v-21.4M116.25 0v-19.2M116.75 0v-29.3M117.25 0v-25.8M117.75 0v-17.0M118.25 0v-14.7M118.75 0v-29.6M119.25 0v-17.4M119.75 0v-19.6M120.25 0v-27.2M120.75 0v-30.6M121.25 0v-26.3M121.75 0v-35.3M122.25 0v-30.8M122.75 0v-38.0M123.25 0v-33.4M123.75 0v-33.1M124.25 0v-38.9M124.75 0v-38.7M125.25 0v-50.9M125.75 0v-41.0M126.25 0v-46.0M126.75 0v-47.4M127.25 0v-55.6M127.75 0v-49.7M128.25 0v-59.0M128.75 0v-61.6M129.25 0v-63.3M129.75 0v-65.3M130.25 0v-69.9M130.75 0v-64.6M131.25 0v-55.7M131.75 0v-66.0M132.25 0v-64.5M12.25 0v-45.4M12.75 0v-45.9M42.55 0v-29.6M43.05 0v-31.9M50.75 0v-39.6M51.25 0v-4.9M62.25 0v-33.4M62.75 0v-28.7M65.25 0v-46.2M65.75 0v-48.1M80.95 0v-6.1M81.45 0v-14.6M86.25 0v-12.1M86.75 0v-7.8M90.65 0v-2.3" stroke="#9a3dff" stroke-width="0.5" stroke-opacity="0.22" fill="none"/>
<path transform="translate(322.5 104.4)" d="M3.25 0v-17.3M4.25 0v-23.9M4.75 0v-20.8M5.25 0v-21.9M5.75 0v-15.3M6.25 0v-17.3M6.75 0v-18.3M7.25 0v-16.0M7.75 0v-25.5M8.25 0v-29.9M8.75 0v-28.9M9.25 0v-34.8M9.75 0v-33.3M10.25 0v-30.7M10.75 0v-30.4M11.25 0v-31.8M11.75 0v-32.5M12.25 0v-26.8M12.75 0v-32.4M13.25 0v-31.0M13.75 0v-22.5M14.25 0v-23.2M14.75 0v-23.0M15.25 0v-18.4M15.75 0v-22.1M16.25 0v-15.4M16.75 0v-6.7M17.25 0v-14.8M17.75 0v-12.4M18.25 0v-22.1M18.75 0v-22.4M19.25 0v-8.8M19.75 0v-6.0M20.25 0v-9.0M20.75 0v-9.2M21.25 0v-3.0M21.75 0v-5.4M22.25 0v-10.5M22.75 0v-16.6M23.25 0v-5.0M34.75 0v-2.5M35.25 0v-3.6M35.75 0v-1.8M36.25 0v-13.6M36.75 0v-10.4M37.25 0v-6.0M37.75 0v-7.4M38.25 0v-7.3M38.75 0v-12.6M39.25 0v-7.1M39.75 0v-5.5M40.25 0v-7.9M40.75 0v-10.8M41.25 0v-9.4M41.75 0v-11.2M42.25 0v-13.0M42.75 0v-12.8M43.25 0v-9.5M43.75 0v-16.2M44.25 0v-16.2M44.75 0v-11.6M45.25 0v-15.8M45.75 0v-16.6M46.25 0v-14.0M46.75 0v-4.1M47.25 0v-9.2M47.75 0v-8.9M48.25 0v-10.3M48.75 0v-12.8M49.25 0v-10.2M49.75 0v-14.1M50.25 0v-6.3M50.75 0v-18.9M51.25 0v-12.4M51.75 0v-22.9M52.25 0v-16.8M52.75 0v-11.4M53.25 0v-13.3M53.75 0v-20.3M54.25 0v-14.6M54.75 0v-20.7M55.25 0v-19.3M55.75 0v-13.9M56.25 0v-12.4M56.75 0v-11.9M57.25 0v-6.9M57.75 0v-14.2M58.25 0v-15.4M58.75 0v-8.4M59.25 0v-20.3M59.75 0v-14.0M60.25 0v-16.2M60.75 0v-6.0M61.25 0v-16.3M61.75 0v-11.2M62.25 0v-14.5M62.75 0v-11.6M63.25 0v-10.1M64.25 0v-10.9M64.75 0v-10.4M65.25 0v-9.5M65.75 0v-10.1M66.25 0v-8.0M66.75 0v-10.2M67.25 0v-12.2M67.75 0v-14.8M68.25 0v-7.2M68.75 0v-9.5M69.25 0v-14.7M69.75 0v-11.4M70.25 0v-7.6M70.75 0v-14.8M71.25 0v-5.9M71.75 0v-11.1M72.25 0v-10.8M72.75 0v-1.2M73.25 0v-7.5M73.75 0v-4.5M74.25 0v-4.4M74.75 0v-7.8M75.25 0v-5.7M75.75 0v-9.2M76.75 0v-3.2M92.25 0v-4.3M92.75 0v-4.4M93.25 0v-8.9M93.75 0v-7.4M94.25 0v-11.0M94.75 0v-6.3M95.25 0v-7.8M95.75 0v-9.0M96.25 0v-19.9M96.75 0v-7.7M97.25 0v-5.8M97.75 0v-9.9M98.25 0v-9.7M98.75 0v-12.1M99.25 0v-7.2M99.75 0v-9.7M100.25 0v-3.2M100.75 0v-3.6M101.25 0v-11.9M101.75 0v-2.4M102.25 0v-5.5M102.75 0v-12.6M103.25 0v-8.7M103.75 0v-6.9M104.25 0v-4.9M105.25 0v-18.3M105.75 0v-4.7M106.25 0v-11.5M106.75 0v-7.3M107.25 0v-8.3M107.75 0v-6.7M108.25 0v-14.6M108.75 0v-18.3M109.25 0v-20.4M109.75 0v-12.2M110.25 0v-7.6M110.75 0v-12.1M111.25 0v-16.1M111.75 0v-22.9M112.25 0v-17.8M112.75 0v-17.3M113.25 0v-27.0M113.75 0v-29.6M114.25 0v-25.8M114.75 0v-10.9M115.25 0v-19.3M115.75 0v-20.1M116.25 0v-13.5M116.75 0v-22.2M117.25 0v-21.6M117.75 0v-24.0M118.25 0v-31.8M118.75 0v-24.3M119.25 0v-30.9M119.75 0v-19.6M120.25 0v-27.1M120.75 0v-25.8M121.25 0v-32.1M121.75 0v-36.7M122.25 0v-34.6M122.75 0v-36.2M123.25 0v-30.6M123.75 0v-45.7M124.25 0v-39.7M124.75 0v-40.8M125.25 0v-40.8M125.75 0v-40.1M126.25 0v-45.9M126.75 0v-47.5M127.25 0v-56.0M127.75 0v-54.3M128.25 0v-56.0M128.75 0v-56.0M129.25 0v-61.8M129.75 0v-64.8M130.25 0v-62.7M130.75 0v-64.7M131.25 0v-65.9M131.75 0v-62.6M132.25 0v-65.4" stroke="#9a3dff" stroke-width="0.5" stroke-opacity="0.22" fill="none"/>
<path transform="translate(322.5 104.4)" d="M3.25 0v-3.6M3.75 0v-10.2M4.25 0v-9.6M4.75 0v-22.0M5.25 0v-21.3M5.75 0v-20.3M6.25 0v-20.1M6.75 0v-22.9M7.25 0v-20.9M7.75 0v-21.2M8.25 0v-22.0M8.75 0v-19.8M9.25 0v-14.0M9.75 0v-31.0M10.25 0v-29.0M10.75 0v-27.0M11.25 0v-38.6M11.75 0v-31.8M12.25 0v-29.4M12.75 0v-30.9M13.25 0v-28.9M13.75 0v-21.4M14.25 0v-20.6M14.75 0v-19.7M15.25 0v-22.6M15.75 0v-17.2M16.25 0v-13.9M16.75 0v-15.4M17.25 0v-12.6M17.75 0v-16.4M18.25 0v-7.1M18.75 0v-9.1M19.25 0v-2.8M19.75 0v-10.5M20.25 0v-13.9M20.75 0v-5.4M21.25 0v-2.7M21.75 0v-6.9M22.25 0v-13.7M22.75 0v-5.3M23.25 0v-7.9M34.75 0v-4.0M35.25 0v-4.7M35.75 0v-9.0M36.25 0v-7.8M36.75 0v-2.9M37.25 0v-11.2M37.75 0v-13.6M38.25 0v-11.5M38.75 0v-12.1M39.25 0v-4.6M39.75 0v-11.0M40.25 0v-4.8M40.75 0v-13.6M41.25 0v-11.2M41.75 0v-19.3M42.25 0v-11.5M42.75 0v-11.6M43.25 0v-11.4M43.75 0v-12.0M44.25 0v-17.8M44.75 0v-10.8M45.25 0v-12.4M45.75 0v-11.5M46.25 0v-13.3M46.75 0v-11.7M47.25 0v-14.9M47.75 0v-6.7M48.25 0v-8.3M48.75 0v-14.5M49.25 0v-4.7M49.75 0v-10.4M50.25 0v-15.5M50.75 0v-17.7M51.25 0v-22.2M51.75 0v-2.2M52.25 0v-14.0M52.75 0v-22.2M53.25 0v-27.2M53.75 0v-7.8M54.25 0v-20.5M54.75 0v-13.1M55.25 0v-21.9M55.75 0v-16.0M56.25 0v-11.8M56.75 0v-11.5M57.25 0v-19.7M57.75 0v-10.0M58.25 0v-15.3M58.75 0v-15.7M59.25 0v-10.9M59.75 0v-11.2M60.25 0v-12.1M60.75 0v-11.7M61.25 0v-20.0M61.75 0v-9.1M62.25 0v-16.1M62.75 0v-17.2M63.25 0v-16.8M63.75 0v-14.0M64.25 0v-9.5M64.75 0v-22.4M65.25 0v-10.7M65.75 0v-4.2M66.25 0v-11.3M66.75 0v-5.9M67.25 0v-13.0M67.75 0v-18.1M68.25 0v-8.2M68.75 0v-19.8M69.75 0v-15.2M70.25 0v-3.5M70.75 0v-3.2M71.25 0v-11.5M71.75 0v-5.2M72.25 0v-11.6M72.75 0v-5.2M73.25 0v-1.4M73.75 0v-7.9M74.25 0v-3.9M74.75 0v-8.0M75.75 0v-9.9M76.25 0v-7.9M76.75 0v-3.8M92.25 0v-2.9M92.75 0v-8.0M93.25 0v-1.0M93.75 0v-9.8M94.25 0v-12.1M94.75 0v-7.4M95.25 0v-9.4M95.75 0v-10.0M96.25 0v-11.0M96.75 0v-3.7M97.25 0v-15.1M97.75 0v-8.2M98.25 0v-7.4M98.75 0v-11.1M99.25 0v-11.7M100.25 0v-10.8M100.75 0v-13.3M101.25 0v-10.9M101.75 0v-9.3M102.25 0v-14.0M102.75 0v-9.4M103.25 0v-14.0M103.75 0v-17.1M104.25 0v-17.8M104.75 0v-12.9M105.25 0v-3.9M105.75 0v-17.5M106.25 0v-7.6M106.75 0v-2.0M107.25 0v-13.8M107.75 0v-7.9M108.25 0v-13.3M108.75 0v-18.9M109.25 0v-11.1M109.75 0v-15.3M110.25 0v-7.5M110.75 0v-10.0M111.25 0v-20.6M111.75 0v-16.8M112.25 0v-24.4M112.75 0v-17.3M113.25 0v-23.9M113.75 0v-12.2M114.25 0v-17.0M114.75 0v-23.3M115.25 0v-22.3M115.75 0v-14.0M116.25 0v-26.1M116.75 0v-22.8M117.25 0v-26.8M117.75 0v-18.4M118.25 0v-25.1M118.75 0v-22.2M119.25 0v-25.9M119.75 0v-26.7M120.25 0v-28.6M120.75 0v-27.2M121.25 0v-28.1M121.75 0v-35.7M122.25 0v-31.0M122.75 0v-33.4M123.25 0v-40.8M123.75 0v-40.9M124.25 0v-36.3M124.75 0v-35.5M125.25 0v-45.0M125.75 0v-44.6M126.25 0v-51.3M126.75 0v-54.6M127.25 0v-57.1M127.75 0v-45.0M128.25 0v-53.0M128.75 0v-48.6M129.25 0v-54.3M129.75 0v-62.1M130.25 0v-66.9M130.75 0v-58.4M131.25 0v-59.2M131.75 0v-71.5M132.25 0v-52.8" stroke="#9a3dff" stroke-width="0.5" stroke-opacity="0.22" fill="none"/>
<path transform="translate(322.5 104.4)" d="M1.25 0v-8.3M3.75 0v-13.8M4.25 0v-27.5M4.75 0v-17.0M5.75 0v-26.1M7.25 0v-29.8M7.75 0v-35.5M8.25 0v-32.5M8.75 0v-33.8M9.25 0v-38.9M9.75 0v-39.4M11.75 0v-35.6M12.75 0v-38.6M13.25 0v-32.5M14.25 0v-42.1M16.75 0v-33.2M17.25 0v-19.1M17.75 0v-28.8M19.25 0v-24.4M22.25 0v-13.6M23.25 0v-16.8M30.25 0v-4.5M34.25 0v-13.6M35.25 0v-10.2M35.75 0v-18.4M36.75 0v-21.1M37.25 0v-11.0M38.25 0v-14.0M39.25 0v-22.1M40.25 0v-37.9M40.75 0v-17.1M42.75 0v-20.5M43.25 0v-28.9M43.75 0v-17.6M45.75 0v-19.5M47.25 0v-18.4M48.25 0v-16.0M48.75 0v-26.6M49.25 0v-21.8M49.75 0v-24.3M50.75 0v-21.1M52.75 0v-22.1M53.75 0v-41.1M54.25 0v-16.7M55.75 0v-18.2M58.25 0v-15.9M58.75 0v-17.8M59.25 0v-19.8M60.75 0v-17.2M61.25 0v-26.1M61.75 0v-19.5M62.25 0v-40.4M63.25 0v-34.0M64.25 0v-43.0M65.75 0v-16.9M66.75 0v-22.7M67.25 0v-16.1M67.75 0v-13.8M68.75 0v-39.3M69.75 0v-42.2M70.75 0v-19.0M71.75 0v-18.2M72.25 0v-19.1M72.75 0v-11.6M79.25 0v-17.0M84.25 0v-9.8M86.75 0v-15.9M88.25 0v-18.5M90.25 0v-1.0M93.25 0v-29.1M93.75 0v-29.7M94.75 0v-11.1M95.25 0v-9.2M95.75 0v-19.8M96.75 0v-33.3M97.25 0v-35.4M97.75 0v-16.4M98.25 0v-10.4M99.75 0v-18.7M100.25 0v-17.3M100.75 0v-13.5M101.25 0v-10.1M102.25 0v-32.3M102.75 0v-38.9M103.75 0v-12.3M104.25 0v-11.2M104.75 0v-18.6M105.75 0v-15.2M106.25 0v-15.1M106.75 0v-12.0M107.75 0v-15.6M108.25 0v-16.6M109.75 0v-19.8M110.25 0v-19.3M110.75 0v-18.3M112.75 0v-48.2M113.25 0v-27.6M113.75 0v-34.9M114.25 0v-39.6M116.75 0v-43.0M117.25 0v-25.8M117.75 0v-41.0M118.25 0v-28.4M118.75 0v-34.6M119.25 0v-31.6M121.25 0v-47.3M122.75 0v-35.6M123.25 0v-55.7M123.75 0v-40.0M124.75 0v-52.3M125.75 0v-50.0M126.25 0v-71.9M127.75 0v-53.8M129.25 0v-60.1M129.75 0v-76.9M130.75 0v-74.3M12.25 0v-46.5M12.75 0v-50.0M42.55 0v-37.1M43.05 0v-43.8M50.75 0v-45.5M51.25 0v-48.7M62.25 0v-36.9M62.75 0v-41.7M65.25 0v-48.0M65.75 0v-50.4M80.95 0v-6.6M81.45 0v-16.8M86.25 0v-12.3M86.75 0v-16.8M90.65 0v-11.2" stroke="#9a3dff" stroke-width="0.5" stroke-opacity="0.45" fill="none"/>
<path d="M459.4 104.4V66.0" stroke="#9a3dff" stroke-width="0.6" stroke-opacity="0.22" fill="none"/>
<path d="M539.6 10.8V104.4" fill="none" stroke="#7a7a7a" stroke-width="1"/>
<path d="M322.5 10.8H540.1" fill="none" stroke="#555" stroke-width="1"/>
<path d="M322.5 104.4H540.1" fill="none" stroke="#333" stroke-width="1.1"/>
<path d="M322.5 10.3V104.9" fill="none" stroke="#111" stroke-width="1.4"/>
<path d="M319.3 104.40H322.5M320.8 98.76H322.5M320.8 95.47H322.5M320.8 93.13H322.5M320.8 91.32H322.5M320.8 89.83H322.5M320.8 88.58H322.5M320.8 87.49H322.5M320.8 86.54H322.5M319.3 85.68H322.5M320.8 80.04H322.5M320.8 76.75H322.5M320.8 74.41H322.5M320.8 72.60H322.5M320.8 71.11H322.5M320.8 69.86H322.5M320.8 68.77H322.5M320.8 67.82H322.5M319.3 66.96H322.5M320.8 61.32H322.5M320.8 58.03H322.5M320.8 55.69H322.5M320.8 53.88H322.5M320.8 52.39H322.5M320.8 51.14H322.5M320.8 50.05H322.5M320.8 49.10H322.5M319.3 48.24H322.5M320.8 42.60H322.5M320.8 39.31H322.5M320.8 36.97H322.5M320.8 35.16H322.5M320.8 33.67H322.5M320.8 32.42H322.5M320.8 31.33H322.5M320.8 30.38H322.5M319.3 29.52H322.5M320.8 23.88H322.5M320.8 20.59H322.5M320.8 18.25H322.5M320.8 16.44H322.5M320.8 14.95H322.5M320.8 13.70H322.5M320.8 12.61H322.5M320.8 11.66H322.5M319.3 10.80H322.5" stroke="#1a1a1a" stroke-width="0.7" fill="none"/>
<path d="M322.50 104.4v3.0M336.97 104.4v1.6M351.45 104.4v1.6M365.92 104.4v1.6M380.39 104.4v1.6M394.87 104.4v3.0M409.34 104.4v1.6M423.81 104.4v1.6M438.29 104.4v1.6M452.76 104.4v1.6M467.23 104.4v3.0M481.71 104.4v1.6M496.18 104.4v1.6M510.65 104.4v1.6M525.13 104.4v1.6M539.60 104.4v3.0" stroke="#333" stroke-width="0.8" fill="none"/>
<text x="304.7" y="107.7" font-family="Liberation Sans, sans-serif" font-size="9.3" letter-spacing="-0.3" fill="#1a1a1a" stroke="#1a1a1a" stroke-width="0.15">10</text>
<text x="314.3" y="103.5" font-family="Liberation Sans, sans-serif" font-size="6.3" fill="#1a1a1a" stroke="#1a1a1a" stroke-width="0.1">1</text>
<text x="304.7" y="89.0" font-family="Liberation Sans, sans-serif" font-size="9.3" letter-spacing="-0.3" fill="#1a1a1a" stroke="#1a1a1a" stroke-width="0.15">10</text>
<text x="314.3" y="84.8" font-family="Liberation Sans, sans-serif" font-size="6.3" fill="#1a1a1a" stroke="#1a1a1a" stroke-width="0.1">2</text>
<text x="304.7" y="70.3" font-family="Liberation Sans, sans-serif" font-size="9.3" letter-spacing="-0.3" fill="#1a1a1a" stroke="#1a1a1a" stroke-width="0.15">10</text>
<text x="314.3" y="66.1" font-family="Liberation Sans, sans-serif" font-size="6.3" fill="#1a1a1a" stroke="#1a1a1a" stroke-width="0.1">3</text>
<text x="304.7" y="51.5" font-family="Liberation Sans, sans-serif" font-size="9.3" letter-spacing="-0.3" fill="#1a1a1a" stroke="#1a1a1a" stroke-width="0.15">10</text>
<text x="314.3" y="47.3" font-family="Liberation Sans, sans-serif" font-size="6.3" fill="#1a1a1a" stroke="#1a1a1a" stroke-width="0.1">4</text>
<text x="304.7" y="32.8" font-family="Liberation Sans, sans-serif" font-size="9.3" letter-spacing="-0.3" fill="#1a1a1a" stroke="#1a1a1a" stroke-width="0.15">10</text>
<text x="314.3" y="28.6" font-family="Liberation Sans, sans-serif" font-size="6.3" fill="#1a1a1a" stroke="#1a1a1a" stroke-width="0.1">5</text>
<text x="304.7" y="14.1" font-family="Liberation Sans, sans-serif" font-size="9.3" letter-spacing="-0.3" fill="#1a1a1a" stroke="#1a1a1a" stroke-width="0.15">10</text>
<text x="314.3" y="9.9" font-family="Liberation Sans, sans-serif" font-size="6.3" fill="#1a1a1a" stroke="#1a1a1a" stroke-width="0.1">6</text>
<rect x="328.5" y="14.0" width="39.8" height="14.2" fill="#fff" stroke="#8a8a8a" stroke-width="0.7"/>
<text x="329.9" y="24.6" font-family="Liberation Sans, sans-serif" font-size="9.25" fill="#111" stroke="#111" stroke-width="0.25">Droplet 1</text>
</g>
<g>
<rect x="322.5" y="123.7" width="132.50" height="93.80" fill="#f7b37a"/>
<rect x="322.5" y="123.7" width="130.50" height="93.80" fill="#c0c0c0"/>
<rect x="322.5" y="123.7" width="91.90" height="93.80" fill="#7fc4c3"/>
<path transform="translate(322.5 217.5)" d="M0.75 0v-13.5M1.25 0v-17.3M1.75 0v-12.8M2.25 0v-13.4M2.75 0v-17.7M3.25 0v-19.0M3.75 0v-17.0M4.25 0v-11.5M4.75 0v-14.3M5.25 0v-10.1M5.75 0v-29.5M6.25 0v-24.3M6.75 0v-19.6M7.25 0v-17.2M7.75 0v-22.4M8.25 0v-24.3M8.75 0v-20.4M9.25 0v-26.7M9.75 0v-22.7M10.25 0v-23.1M10.75 0v-25.9M11.25 0v-25.2M11.75 0v-23.9M12.25 0v-37.2M12.75 0v-31.8M13.25 0v-34.7M13.75 0v-16.3M14.25 0v-30.3M14.75 0v-26.8M15.25 0v-26.9M15.75 0v-22.2M16.25 0v-23.6M16.75 0v-18.6M17.25 0v-29.3M17.75 0v-14.1M18.25 0v-14.9M18.75 0v-15.3M19.25 0v-24.5M19.75 0v-18.3M20.25 0v-17.5M20.75 0v-15.6M21.25 0v-5.7M36.25 0v-7.6M36.75 0v-1.4M37.25 0v-5.2M37.75 0v-7.3M38.25 0v-12.4M38.75 0v-4.9M39.25 0v-7.2M40.25 0v-2.0M40.75 0v-6.0M41.75 0v-3.7M42.25 0v-5.4M42.75 0v-6.5M43.25 0v-9.0M43.75 0v-7.5M51.75 0v-11.4M52.75 0v-16.6M53.25 0v-1.5M53.75 0v-5.2M54.25 0v-8.0M54.75 0v-2.2M55.25 0v-4.0M55.75 0v-5.4M56.25 0v-16.6M56.75 0v-7.5M57.25 0v-14.4M57.75 0v-4.0M58.25 0v-13.7M58.75 0v-6.1M59.25 0v-6.6M59.75 0v-1.6M60.25 0v-4.4M60.75 0v-6.5M61.25 0v-15.8M61.75 0v-6.2M62.25 0v-16.1M62.75 0v-7.4M63.25 0v-14.9M72.75 0v-5.1M73.25 0v-5.6M73.75 0v-11.8M74.25 0v-7.5M74.75 0v-7.9M75.25 0v-5.4M75.75 0v-12.1M76.25 0v-12.9M76.75 0v-7.9M77.25 0v-17.0M77.75 0v-6.9M78.25 0v-9.6M78.75 0v-11.5M79.25 0v-6.8M79.75 0v-4.1M80.25 0v-10.3M80.75 0v-7.1M82.75 0v-6.9M83.25 0v-8.1M83.75 0v-5.0M84.25 0v-6.8M84.75 0v-5.7M85.25 0v-10.9M85.75 0v-9.7M86.25 0v-13.5M86.75 0v-7.6M87.25 0v-9.4M87.75 0v-8.8M88.25 0v-7.1M88.75 0v-3.5M89.25 0v-7.4M89.75 0v-11.2M90.25 0v-19.9M90.75 0v-13.2M91.25 0v-16.2M91.75 0v-23.2M92.25 0v-11.2M92.75 0v-12.8M93.25 0v-18.3M93.75 0v-13.3M94.25 0v-19.7M94.75 0v-16.1M95.25 0v-12.6M95.75 0v-20.2M96.25 0v-20.7M96.75 0v-24.4M97.25 0v-9.6M97.75 0v-10.3M98.25 0v-7.9M98.75 0v-7.7M99.25 0v-7.9M99.75 0v-4.0M100.75 0v-5.6M101.25 0v-12.3M101.75 0v-12.1M102.25 0v-10.7M102.75 0v-15.9M103.25 0v-14.4M103.75 0v-9.3M104.25 0v-8.2M104.75 0v-12.5M105.25 0v-10.8M105.75 0v-18.1M106.25 0v-12.6M106.75 0v-19.7M107.25 0v-18.1M107.75 0v-22.5M108.25 0v-19.5M108.75 0v-8.5M109.25 0v-19.3M109.75 0v-6.9M110.25 0v-15.2M110.75 0v-20.2M111.25 0v-15.5M111.75 0v-18.9M112.25 0v-19.1M112.75 0v-19.5M113.25 0v-20.3M113.75 0v-13.6M114.25 0v-20.4M114.75 0v-21.0M115.25 0v-17.7M115.75 0v-21.3M116.25 0v-18.1M116.75 0v-21.9M117.25 0v-29.9M117.75 0v-15.7M118.25 0v-24.2M118.75 0v-26.5M119.25 0v-25.9M119.75 0v-23.2M120.25 0v-23.2M120.75 0v-28.6M121.25 0v-24.3M121.75 0v-23.5M122.25 0v-27.4M122.75 0v-31.6M123.25 0v-30.0M123.75 0v-27.7M124.25 0v-36.9M124.75 0v-44.7M125.25 0v-38.6M125.75 0v-37.8M126.25 0v-43.9M126.75 0v-34.4M127.25 0v-41.4M127.75 0v-40.9M128.25 0v-43.4M128.75 0v-46.9M129.25 0v-46.6M129.75 0v-48.9M130.25 0v-58.4M130.75 0v-54.4M131.25 0v-45.9M131.75 0v-62.1M132.25 0v-61.6M132.75 0v-61.6M133.25 0v-63.2M133.75 0v-67.5M134.25 0v-65.7M134.75 0v-62.1M135.25 0v-63.6M135.75 0v-54.5M69.25 0v-2.5M69.75 0v-10.1" stroke="#30fbfb" stroke-width="0.5" stroke-opacity="0.22" fill="none"/>
<path transform="translate(322.5 217.5)" d="M0.75 0v-23.1M1.25 0v-15.8M1.75 0v-16.5M2.25 0v-13.8M2.75 0v-14.7M3.25 0v-17.4M3.75 0v-15.4M4.25 0v-16.7M4.75 0v-20.6M5.25 0v-23.5M5.75 0v-20.6M6.25 0v-14.6M6.75 0v-28.1M7.25 0v-22.6M7.75 0v-21.7M8.25 0v-22.0M8.75 0v-21.0M9.25 0v-25.3M9.75 0v-27.5M10.25 0v-27.0M10.75 0v-36.0M11.25 0v-31.5M11.75 0v-27.6M12.25 0v-29.4M12.75 0v-22.9M13.25 0v-21.1M13.75 0v-23.2M14.25 0v-24.0M14.75 0v-25.9M15.25 0v-26.1M15.75 0v-30.9M16.25 0v-20.6M16.75 0v-24.9M17.25 0v-33.0M17.75 0v-12.1M18.25 0v-21.4M18.75 0v-19.3M19.25 0v-16.7M19.75 0v-16.5M20.25 0v-7.7M20.75 0v-10.0M21.25 0v-12.6M21.75 0v-4.6M36.25 0v-1.0M36.75 0v-9.9M37.25 0v-10.7M37.75 0v-3.9M38.75 0v-2.5M39.25 0v-1.1M39.75 0v-4.9M40.25 0v-5.3M40.75 0v-11.7M41.25 0v-7.9M41.75 0v-11.7M42.25 0v-6.0M42.75 0v-6.6M43.25 0v-12.9M43.75 0v-9.4M45.25 0v-2.0M51.25 0v-10.1M51.75 0v-6.6M52.25 0v-15.1M52.75 0v-10.4M53.25 0v-0.9M53.75 0v-10.1M54.25 0v-4.1M54.75 0v-7.5M55.25 0v-10.8M55.75 0v-1.1M56.25 0v-7.1M56.75 0v-5.0M57.25 0v-5.2M57.75 0v-4.6M58.25 0v-7.4M58.75 0v-4.8M59.75 0v-10.9M60.25 0v-11.9M60.75 0v-18.2M61.75 0v-11.7M62.25 0v-9.8M62.75 0v-8.1M63.25 0v-13.4M72.25 0v-16.3M72.75 0v-8.0M73.25 0v-10.8M73.75 0v-11.6M74.25 0v-9.9M74.75 0v-8.2M75.25 0v-1.5M75.75 0v-4.1M76.75 0v-8.9M77.25 0v-2.7M78.25 0v-1.1M78.75 0v-5.3M79.25 0v-7.0M79.75 0v-7.9M80.25 0v-12.2M80.75 0v-4.3M82.75 0v-9.3M83.25 0v-10.9M83.75 0v-10.6M84.25 0v-5.2M84.75 0v-10.6M85.25 0v-10.6M85.75 0v-11.6M86.25 0v-5.5M86.75 0v-3.8M87.25 0v-11.1M87.75 0v-13.0M88.25 0v-5.4M88.75 0v-6.0M89.25 0v-19.4M89.75 0v-16.8M90.25 0v-21.1M90.75 0v-17.3M91.25 0v-15.8M91.75 0v-10.0M92.25 0v-8.3M92.75 0v-12.3M93.25 0v-12.4M93.75 0v-17.2M94.25 0v-13.3M94.75 0v-19.4M95.25 0v-15.6M95.75 0v-12.5M96.25 0v-10.0M96.75 0v-19.7M97.25 0v-14.0M97.75 0v-23.4M98.25 0v-19.0M98.75 0v-2.7M99.25 0v-10.5M99.75 0v-6.7M100.25 0v-7.3M100.75 0v-15.4M101.25 0v-7.4M101.75 0v-5.4M102.25 0v-11.0M102.75 0v-9.4M103.25 0v-7.6M103.75 0v-13.0M104.25 0v-4.9M104.75 0v-8.4M105.25 0v-15.3M105.75 0v-9.1M106.25 0v-5.4M106.75 0v-17.9M107.25 0v-13.6M107.75 0v-14.7M108.25 0v-10.6M108.75 0v-14.2M109.25 0v-16.7M109.75 0v-16.1M110.25 0v-16.9M110.75 0v-14.7M111.25 0v-23.3M111.75 0v-16.4M112.25 0v-10.7M112.75 0v-19.5M113.25 0v-17.1M113.75 0v-15.5M114.25 0v-19.2M114.75 0v-24.1M115.25 0v-24.3M115.75 0v-21.9M116.25 0v-22.1M116.75 0v-22.3M117.25 0v-13.9M117.75 0v-24.6M118.25 0v-24.8M118.75 0v-22.4M119.25 0v-28.6M119.75 0v-29.8M120.25 0v-18.7M120.75 0v-27.6M121.25 0v-22.9M121.75 0v-22.2M122.25 0v-22.2M122.75 0v-34.7M123.25 0v-28.9M123.75 0v-32.9M124.25 0v-33.2M124.75 0v-40.5M125.25 0v-43.5M125.75 0v-37.0M126.25 0v-39.7M126.75 0v-44.4M127.25 0v-45.0M127.75 0v-33.5M128.25 0v-45.8M128.75 0v-48.5M129.25 0v-50.9M129.75 0v-47.6M130.25 0v-53.0M130.75 0v-52.7M131.25 0v-56.7M131.75 0v-45.6M132.25 0v-61.3M132.75 0v-58.9M133.25 0v-57.6M133.75 0v-64.4M134.25 0v-56.9M134.75 0v-56.2M135.25 0v-50.0M135.75 0v-62.5" stroke="#30fbfb" stroke-width="0.5" stroke-opacity="0.22" fill="none"/>
<path transform="translate(322.5 217.5)" d="M0.75 0v-12.4M1.25 0v-23.2M1.75 0v-23.2M2.25 0v-11.0M2.75 0v-17.7M3.25 0v-18.1M3.75 0v-16.6M4.25 0v-24.8M4.75 0v-14.4M5.25 0v-12.4M5.75 0v-22.3M6.25 0v-21.2M6.75 0v-22.5M7.25 0v-19.9M7.75 0v-34.3M8.25 0v-29.9M8.75 0v-29.4M9.25 0v-23.2M9.75 0v-21.2M10.25 0v-27.0M10.75 0v-25.2M11.25 0v-34.3M11.75 0v-26.9M12.25 0v-29.8M12.75 0v-24.3M13.25 0v-25.3M13.75 0v-26.2M14.25 0v-23.7M14.75 0v-14.6M15.25 0v-30.4M15.75 0v-22.9M16.25 0v-23.8M16.75 0v-27.2M17.25 0v-22.0M17.75 0v-20.2M18.25 0v-13.5M18.75 0v-20.3M19.25 0v-6.3M19.75 0v-18.2M20.25 0v-9.6M20.75 0v-6.3M21.25 0v-13.4M36.25 0v-7.1M36.75 0v-10.4M37.25 0v-5.8M37.75 0v-6.8M38.25 0v-2.8M39.25 0v-4.5M39.75 0v-3.1M40.25 0v-7.7M41.25 0v-3.6M41.75 0v-3.8M42.25 0v-2.7M42.75 0v-3.4M43.75 0v-10.8M44.75 0v-13.9M45.25 0v-10.8M45.75 0v-9.1M51.25 0v-4.2M51.75 0v-8.4M52.25 0v-4.1M52.75 0v-10.4M53.25 0v-8.9M53.75 0v-6.1M54.25 0v-5.9M54.75 0v-8.5M55.25 0v-6.2M55.75 0v-5.8M56.25 0v-2.0M56.75 0v-10.8M57.25 0v-11.0M57.75 0v-17.4M58.25 0v-14.6M58.75 0v-2.6M59.25 0v-13.5M59.75 0v-8.2M60.25 0v-13.9M60.75 0v-7.0M61.25 0v-7.4M61.75 0v-9.4M62.25 0v-9.1M62.75 0v-16.9M63.25 0v-13.8M63.75 0v-2.8M72.25 0v-2.6M72.75 0v-3.0M73.25 0v-4.0M73.75 0v-2.3M74.75 0v-5.2M75.25 0v-4.4M75.75 0v-4.4M76.25 0v-10.2M76.75 0v-3.4M77.25 0v-6.8M77.75 0v-5.1M78.25 0v-20.6M78.75 0v-2.0M79.25 0v-2.4M79.75 0v-3.2M80.25 0v-11.2M82.75 0v-0.6M83.75 0v-9.5M84.25 0v-10.1M84.75 0v-8.6M85.25 0v-11.7M85.75 0v-13.6M86.25 0v-9.1M86.75 0v-10.1M87.25 0v-9.8M87.75 0v-5.3M88.25 0v-18.5M88.75 0v-18.0M89.25 0v-7.3M89.75 0v-9.6M90.25 0v-12.9M90.75 0v-10.2M91.25 0v-18.6M91.75 0v-21.1M92.25 0v-10.8M92.75 0v-11.0M93.25 0v-9.9M93.75 0v-12.9M94.25 0v-10.3M94.75 0v-14.0M95.25 0v-15.1M95.75 0v-7.4M96.25 0v-17.9M96.75 0v-2.5M97.25 0v-20.9M97.75 0v-16.5M98.25 0v-5.3M98.75 0v-12.8M99.25 0v-3.2M99.75 0v-8.2M100.25 0v-12.2M100.75 0v-6.0M101.25 0v-6.7M101.75 0v-2.3M102.25 0v-3.0M102.75 0v-10.8M103.25 0v-5.1M103.75 0v-15.9M104.25 0v-12.0M104.75 0v-14.8M105.25 0v-16.8M105.75 0v-7.9M106.25 0v-17.7M106.75 0v-19.5M107.25 0v-17.9M107.75 0v-16.8M108.25 0v-8.4M108.75 0v-7.4M109.25 0v-12.3M109.75 0v-19.5M110.25 0v-19.7M110.75 0v-4.6M111.25 0v-19.1M111.75 0v-6.1M112.25 0v-10.1M112.75 0v-23.9M113.25 0v-17.6M113.75 0v-27.6M114.25 0v-23.7M114.75 0v-16.7M115.25 0v-13.2M115.75 0v-25.8M116.25 0v-18.6M116.75 0v-18.2M117.25 0v-25.9M117.75 0v-18.0M118.25 0v-27.8M118.75 0v-30.0M119.25 0v-20.4M119.75 0v-22.1M120.25 0v-30.6M120.75 0v-25.0M121.25 0v-24.9M121.75 0v-33.2M122.25 0v-34.9M122.75 0v-41.2M123.25 0v-30.7M123.75 0v-30.8M124.25 0v-42.7M124.75 0v-29.5M125.25 0v-35.5M125.75 0v-36.5M126.25 0v-42.9M126.75 0v-44.1M127.25 0v-41.2M127.75 0v-44.3M128.25 0v-42.0M128.75 0v-46.6M129.25 0v-55.8M129.75 0v-58.8M130.25 0v-59.7M130.75 0v-57.2M131.25 0v-54.5M131.75 0v-57.2M132.25 0v-60.5M132.75 0v-69.9M133.25 0v-59.1M133.75 0v-61.8M134.25 0v-68.2M134.75 0v-58.6M135.25 0v-64.3M135.75 0v-58.0" stroke="#30fbfb" stroke-width="0.5" stroke-opacity="0.22" fill="none"/>
<path transform="translate(322.5 217.5)" d="M1.25 0v-19.9M1.75 0v-28.8M2.75 0v-19.0M3.75 0v-44.1M4.25 0v-20.5M5.75 0v-23.7M6.25 0v-23.6M6.75 0v-21.1M7.25 0v-23.6M7.75 0v-32.6M9.25 0v-37.2M9.75 0v-48.9M10.25 0v-31.5M10.75 0v-41.5M11.25 0v-47.3M11.75 0v-32.9M12.75 0v-30.3M13.75 0v-31.4M14.25 0v-32.5M15.25 0v-35.5M15.75 0v-31.3M16.25 0v-47.2M16.75 0v-25.8M17.75 0v-52.4M18.25 0v-37.8M18.75 0v-37.3M20.25 0v-18.5M36.25 0v-17.7M38.25 0v-13.9M39.25 0v-12.9M40.25 0v-10.9M41.75 0v-15.2M42.25 0v-26.8M42.75 0v-5.8M44.25 0v-11.7M45.75 0v-10.8M46.25 0v-19.8M52.25 0v-13.1M53.25 0v-26.6M54.25 0v-16.7M55.75 0v-13.6M56.25 0v-21.8M56.75 0v-18.9M57.25 0v-35.4M59.75 0v-26.0M60.75 0v-38.9M61.75 0v-28.8M62.75 0v-14.5M63.75 0v-17.3M67.25 0v-34.3M72.75 0v-13.5M74.25 0v-12.2M75.25 0v-26.5M75.75 0v-16.0M76.25 0v-13.5M76.75 0v-12.1M77.25 0v-13.1M78.25 0v-10.0M79.25 0v-10.4M80.25 0v-31.6M80.75 0v-10.3M85.25 0v-19.3M85.75 0v-14.9M87.25 0v-16.4M87.75 0v-16.7M90.25 0v-16.7M91.25 0v-28.2M93.25 0v-37.4M93.75 0v-18.7M96.75 0v-35.4M97.25 0v-18.7M98.75 0v-14.0M100.25 0v-10.2M101.25 0v-21.4M102.75 0v-42.5M103.25 0v-14.9M103.75 0v-13.4M104.25 0v-42.7M105.25 0v-15.8M105.75 0v-15.0M108.25 0v-17.0M108.75 0v-24.6M111.75 0v-24.1M112.75 0v-48.9M114.75 0v-21.7M115.25 0v-25.7M115.75 0v-25.7M116.25 0v-50.7M116.75 0v-27.2M120.25 0v-30.7M123.25 0v-46.3M124.25 0v-37.4M124.75 0v-49.7M125.25 0v-43.3M126.25 0v-48.8M126.75 0v-42.2M127.25 0v-52.9M128.25 0v-50.0M130.25 0v-63.8M131.75 0v-58.2M132.75 0v-71.3M133.25 0v-71.6M133.75 0v-64.3M134.75 0v-63.3M135.75 0v-57.9M69.25 0v-3.1M69.75 0v-11.3" stroke="#30fbfb" stroke-width="0.5" stroke-opacity="0.5" fill="none"/>
<path d="M539.6 123.7V217.5" fill="none" stroke="#7a7a7a" stroke-width="1"/>
<path d="M322.5 123.7H540.1" fill="none" stroke="#555" stroke-width="1"/>
<path d="M322.5 217.5H540.1" fill="none" stroke="#333" stroke-width="1.1"/>
<path d="M322.5 123.2V218.0" fill="none" stroke="#111" stroke-width="1.4"/>
<path d="M319.3 217.50H322.5M320.8 211.85H322.5M320.8 208.55H322.5M320.8 206.21H322.5M320.8 204.39H322.5M320.8 202.90H322.5M320.8 201.65H322.5M320.8 200.56H322.5M320.8 199.60H322.5M319.3 198.74H322.5M320.8 193.09H322.5M320.8 189.79H322.5M320.8 187.45H322.5M320.8 185.63H322.5M320.8 184.14H322.5M320.8 182.89H322.5M320.8 181.80H322.5M320.8 180.84H322.5M319.3 179.98H322.5M320.8 174.33H322.5M320.8 171.03H322.5M320.8 168.69H322.5M320.8 166.87H322.5M320.8 165.38H322.5M320.8 164.13H322.5M320.8 163.04H322.5M320.8 162.08H322.5M319.3 161.22H322.5M320.8 155.57H322.5M320.8 152.27H322.5M320.8 149.93H322.5M320.8 148.11H322.5M320.8 146.62H322.5M320.8 145.37H322.5M320.8 144.28H322.5M320.8 143.32H322.5M319.3 142.46H322.5M320.8 136.81H322.5M320.8 133.51H322.5M320.8 131.17H322.5M320.8 129.35H322.5M320.8 127.86H322.5M320.8 126.61H322.5M320.8 125.52H322.5M320.8 124.56H322.5M319.3 123.70H322.5" stroke="#1a1a1a" stroke-width="0.7" fill="none"/>
<path d="M322.50 217.5v3.0M336.97 217.5v1.6M351.45 217.5v1.6M365.92 217.5v1.6M380.39 217.5v1.6M394.87 217.5v3.0M409.34 217.5v1.6M423.81 217.5v1.6M438.29 217.5v1.6M452.76 217.5v1.6M467.23 217.5v3.0M481.71 217.5v1.6M496.18 217.5v1.6M510.65 217.5v1.6M525.13 217.5v1.6M539.60 217.5v3.0" stroke="#333" stroke-width="0.8" fill="none"/>
<text x="304.7" y="220.8" font-family="Liberation Sans, sans-serif" font-size="9.3" letter-spacing="-0.3" fill="#1a1a1a" stroke="#1a1a1a" stroke-width="0.15">10</text>
<text x="314.3" y="216.6" font-family="Liberation Sans, sans-serif" font-size="6.3" fill="#1a1a1a" stroke="#1a1a1a" stroke-width="0.1">1</text>
<text x="304.7" y="202.0" font-family="Liberation Sans, sans-serif" font-size="9.3" letter-spacing="-0.3" fill="#1a1a1a" stroke="#1a1a1a" stroke-width="0.15">10</text>
<text x="314.3" y="197.8" font-family="Liberation Sans, sans-serif" font-size="6.3" fill="#1a1a1a" stroke="#1a1a1a" stroke-width="0.1">2</text>
<text x="304.7" y="183.3" font-family="Liberation Sans, sans-serif" font-size="9.3" letter-spacing="-0.3" fill="#1a1a1a" stroke="#1a1a1a" stroke-width="0.15">10</text>
<text x="314.3" y="179.1" font-family="Liberation Sans, sans-serif" font-size="6.3" fill="#1a1a1a" stroke="#1a1a1a" stroke-width="0.1">3</text>
<text x="304.7" y="164.5" font-family="Liberation Sans, sans-serif" font-size="9.3" letter-spacing="-0.3" fill="#1a1a1a" stroke="#1a1a1a" stroke-width="0.15">10</text>
<text x="314.3" y="160.3" font-family="Liberation Sans, sans-serif" font-size="6.3" fill="#1a1a1a" stroke="#1a1a1a" stroke-width="0.1">4</text>
<text x="304.7" y="145.8" font-family="Liberation Sans, sans-serif" font-size="9.3" letter-spacing="-0.3" fill="#1a1a1a" stroke="#1a1a1a" stroke-width="0.15">10</text>
<text x="314.3" y="141.6" font-family="Liberation Sans, sans-serif" font-size="6.3" fill="#1a1a1a" stroke="#1a1a1a" stroke-width="0.1">5</text>
<text x="304.7" y="127.0" font-family="Liberation Sans, sans-serif" font-size="9.3" letter-spacing="-0.3" fill="#1a1a1a" stroke="#1a1a1a" stroke-width="0.15">10</text>
<text x="314.3" y="122.8" font-family="Liberation Sans, sans-serif" font-size="6.3" fill="#1a1a1a" stroke="#1a1a1a" stroke-width="0.1">6</text>
<rect x="329.3" y="129.5" width="40.1" height="13.6" fill="#fff" stroke="#8a8a8a" stroke-width="0.7"/>
<text x="330.7" y="139.8" font-family="Liberation Sans, sans-serif" font-size="9.25" fill="#111" stroke="#111" stroke-width="0.25">Droplet 2</text>
</g>
<g>
<rect x="322.5" y="236.0" width="165.70" height="93.70" fill="#f7b37a"/>
<rect x="322.5" y="236.0" width="163.30" height="93.70" fill="#c0c0c0"/>
<rect x="322.5" y="236.0" width="132.50" height="93.70" fill="#7fc4c3"/>
<path transform="translate(322.5 329.7)" d="M0.75 0v-15.7M1.25 0v-24.6M1.75 0v-22.6M2.25 0v-10.5M2.75 0v-11.5M3.25 0v-22.8M3.75 0v-16.7M4.25 0v-18.7M4.75 0v-13.4M5.25 0v-15.7M5.75 0v-12.0M6.25 0v-21.2M6.75 0v-18.6M7.25 0v-15.3M7.75 0v-19.0M8.25 0v-14.6M8.75 0v-17.6M9.25 0v-20.3M9.75 0v-20.1M10.25 0v-14.5M10.75 0v-16.9M11.25 0v-13.5M11.75 0v-14.6M12.25 0v-16.7M12.75 0v-22.4M13.25 0v-8.4M13.75 0v-11.3M14.25 0v-18.3M14.75 0v-16.7M15.25 0v-23.5M15.75 0v-15.2M16.25 0v-17.6M16.75 0v-6.4M17.25 0v-17.1M17.75 0v-8.1M18.25 0v-18.1M18.75 0v-16.1M19.25 0v-22.0M19.75 0v-19.0M20.25 0v-19.5M20.75 0v-18.8M21.25 0v-16.7M21.75 0v-11.3M22.25 0v-28.1M22.75 0v-21.3M23.25 0v-20.8M23.75 0v-23.5M24.25 0v-20.8M24.75 0v-26.9M25.25 0v-22.4M25.75 0v-23.2M26.25 0v-24.4M26.75 0v-21.5M27.25 0v-20.8M27.75 0v-28.1M28.25 0v-28.9M28.75 0v-28.3M29.25 0v-30.8M29.75 0v-30.5M30.25 0v-25.7M30.75 0v-30.2M31.25 0v-31.4M31.75 0v-32.9M32.25 0v-29.0M32.75 0v-25.9M33.25 0v-22.0M33.75 0v-30.9M34.25 0v-34.2M34.75 0v-20.9M35.25 0v-25.7M35.75 0v-22.4M36.25 0v-17.5M36.75 0v-18.8M37.25 0v-19.4M37.75 0v-24.2M38.25 0v-23.6M38.75 0v-15.5M39.25 0v-8.2M46.25 0v-11.7M46.75 0v-26.3M47.25 0v-20.0M47.75 0v-13.7M48.25 0v-14.4M48.75 0v-18.1M49.25 0v-24.7M49.75 0v-20.7M50.25 0v-18.3M50.75 0v-16.8M51.25 0v-15.5M51.75 0v-13.2M52.25 0v-15.2M52.75 0v-18.0M53.25 0v-14.2M53.75 0v-12.2M54.25 0v-8.2M54.75 0v-11.9M55.25 0v-11.7M55.75 0v-12.6M56.25 0v-11.3M56.75 0v-10.5M57.25 0v-8.2M57.75 0v-11.7M58.25 0v-5.4M59.25 0v-4.6M59.75 0v-0.9M60.25 0v-4.2M60.75 0v-5.8M61.25 0v-0.8M61.75 0v-14.6M62.25 0v-5.4M62.75 0v-15.6M63.25 0v-10.4M63.75 0v-5.2M64.25 0v-14.4M64.75 0v-10.0M65.25 0v-10.2M65.75 0v-11.0M66.25 0v-10.5M66.75 0v-12.6M67.25 0v-15.2M67.75 0v-14.0M68.25 0v-6.8M68.75 0v-3.7M69.25 0v-9.1M69.75 0v-11.7M70.25 0v-11.1M70.75 0v-10.8M71.25 0v-14.0M71.75 0v-8.7M72.25 0v-11.9M72.75 0v-15.6M73.25 0v-8.0M73.75 0v-6.0M74.25 0v-2.6M75.25 0v-4.0M75.75 0v-9.4M76.25 0v-7.7M76.75 0v-4.5M77.25 0v-4.5M77.75 0v-9.5M78.25 0v-11.9M78.75 0v-12.2M79.25 0v-4.3M79.75 0v-9.0M80.25 0v-7.8M80.75 0v-5.9M81.25 0v-16.5M81.75 0v-16.8M82.25 0v-13.2M82.75 0v-19.8M83.25 0v-11.1M83.75 0v-10.4M84.25 0v-16.4M84.75 0v-11.2M85.25 0v-15.0M85.75 0v-10.2M86.25 0v-5.1M86.75 0v-3.7M87.25 0v-4.2M87.75 0v-7.9M88.25 0v-9.3M88.75 0v-10.8M89.25 0v-1.3M89.75 0v-14.1M90.25 0v-7.0M90.75 0v-14.2M91.25 0v-8.5M91.75 0v-15.3M92.25 0v-12.5M92.75 0v-7.2M93.25 0v-10.3M93.75 0v-13.6M94.25 0v-9.2M94.75 0v-9.0M95.25 0v-14.3M95.75 0v-16.4M96.25 0v-3.0M96.75 0v-9.3M97.25 0v-14.6M97.75 0v-10.4M98.25 0v-15.0M98.75 0v-11.6M99.25 0v-9.6M99.75 0v-5.6M100.25 0v-9.9M100.75 0v-9.1M101.25 0v-8.1M101.75 0v-4.3M102.25 0v-5.9M102.75 0v-6.3M103.25 0v-7.2M103.75 0v-9.1M104.25 0v-9.5M104.75 0v-1.5M105.25 0v-11.6M105.75 0v-10.5M106.25 0v-10.4M106.75 0v-12.2M107.25 0v-14.3M107.75 0v-16.6M108.25 0v-16.9M108.75 0v-12.0M109.25 0v-14.6M109.75 0v-15.9M110.25 0v-9.3M110.75 0v-11.3M111.25 0v-16.6M111.75 0v-13.5M112.25 0v-13.8M112.75 0v-13.5M113.25 0v-7.6M113.75 0v-13.3M114.25 0v-13.8M114.75 0v-7.8M115.25 0v-12.8M115.75 0v-6.7M116.25 0v-6.9M116.75 0v-4.4M117.25 0v-5.6M117.75 0v-11.6M118.25 0v-4.9M118.75 0v-4.7M119.25 0v-9.4M119.75 0v-5.3M120.25 0v-7.6M120.75 0v-13.3M121.25 0v-13.5M121.75 0v-14.0M122.25 0v-13.9M122.75 0v-15.7M123.25 0v-13.2M123.75 0v-18.8M124.25 0v-19.0M124.75 0v-9.3M125.25 0v-17.7M125.75 0v-10.5M126.25 0v-15.3M126.75 0v-7.9M127.25 0v-13.0M127.75 0v-16.7M128.25 0v-13.4M128.75 0v-3.5M129.25 0v-3.3M129.75 0v-6.8M130.25 0v-7.2M130.75 0v-3.0M131.25 0v-1.8M135.25 0v-2.2M135.75 0v-10.8M136.25 0v-11.8M136.75 0v-10.5M137.25 0v-5.3M137.75 0v-13.9M138.25 0v-11.8M138.75 0v-10.8M139.25 0v-14.7M139.75 0v-17.3M140.25 0v-21.6M140.75 0v-19.8M141.25 0v-20.5M141.75 0v-17.2M142.25 0v-16.4M142.75 0v-23.4M143.25 0v-16.7M143.75 0v-16.6M144.25 0v-24.0M144.75 0v-33.1M145.25 0v-25.7M145.75 0v-27.5M146.25 0v-22.4M146.75 0v-27.8M147.25 0v-34.0M147.75 0v-32.3M148.25 0v-30.7M148.75 0v-31.3M149.25 0v-27.8M149.75 0v-28.9M150.25 0v-26.7M150.75 0v-32.6M151.25 0v-40.3M151.75 0v-32.4M152.25 0v-35.6M152.75 0v-43.6M153.25 0v-38.1M153.75 0v-34.2M154.25 0v-40.1M154.75 0v-42.8M155.25 0v-40.6M155.75 0v-40.0M156.25 0v-40.6M156.75 0v-42.7M157.25 0v-53.9M157.75 0v-50.1M158.25 0v-50.0M158.75 0v-49.6M159.25 0v-56.7M159.75 0v-48.9M160.25 0v-63.7M160.75 0v-57.4M161.25 0v-58.2M161.75 0v-62.0M162.25 0v-61.2M162.75 0v-59.8M163.25 0v-69.3M163.75 0v-71.2M164.25 0v-65.5M164.75 0v-69.0M165.25 0v-72.4M165.75 0v-73.3M166.25 0v-67.8M166.75 0v-65.1M167.25 0v-71.1M167.75 0v-51.3" stroke="#ff0a85" stroke-width="0.5" stroke-opacity="0.2" fill="none"/>
<path transform="translate(322.5 329.7)" d="M0.75 0v-20.2M1.25 0v-19.3M1.75 0v-24.7M2.25 0v-19.3M2.75 0v-24.4M3.25 0v-18.4M3.75 0v-22.6M4.25 0v-12.8M4.75 0v-12.3M5.25 0v-19.1M5.75 0v-19.1M6.25 0v-22.7M6.75 0v-15.5M7.25 0v-15.9M7.75 0v-17.5M8.25 0v-16.7M8.75 0v-19.4M9.25 0v-14.5M9.75 0v-17.6M10.25 0v-16.3M10.75 0v-22.0M11.25 0v-12.7M11.75 0v-15.7M12.25 0v-15.3M12.75 0v-10.2M13.25 0v-13.8M13.75 0v-12.5M14.25 0v-25.1M14.75 0v-16.9M15.25 0v-13.9M15.75 0v-13.5M16.25 0v-17.1M16.75 0v-16.6M17.25 0v-19.0M17.75 0v-17.4M18.25 0v-9.7M18.75 0v-14.6M19.25 0v-14.9M19.75 0v-14.1M20.25 0v-15.3M20.75 0v-18.7M21.25 0v-14.9M21.75 0v-19.0M22.25 0v-21.1M22.75 0v-22.7M23.25 0v-19.6M23.75 0v-20.7M24.25 0v-27.5M24.75 0v-23.0M25.25 0v-25.7M25.75 0v-19.7M26.25 0v-19.5M26.75 0v-28.3M27.25 0v-27.6M27.75 0v-25.3M28.25 0v-24.9M28.75 0v-33.7M29.25 0v-37.4M29.75 0v-27.8M30.25 0v-22.4M30.75 0v-38.1M31.25 0v-29.7M31.75 0v-31.5M32.25 0v-35.4M32.75 0v-24.5M33.25 0v-27.9M33.75 0v-28.6M34.25 0v-29.0M34.75 0v-19.1M35.25 0v-23.7M35.75 0v-22.7M36.25 0v-28.1M36.75 0v-25.2M37.25 0v-23.4M37.75 0v-19.9M38.25 0v-26.1M38.75 0v-16.5M39.25 0v-6.9M46.25 0v-3.9M46.75 0v-23.2M47.25 0v-21.0M47.75 0v-22.9M48.25 0v-25.6M48.75 0v-15.4M49.25 0v-19.9M49.75 0v-16.4M50.25 0v-17.2M50.75 0v-18.7M51.25 0v-7.3M51.75 0v-13.6M52.25 0v-13.9M52.75 0v-15.1M53.25 0v-12.1M53.75 0v-8.9M54.25 0v-11.8M54.75 0v-10.3M55.25 0v-9.1M56.25 0v-12.6M56.75 0v-8.8M57.25 0v-4.8M57.75 0v-1.2M58.25 0v-8.3M58.75 0v-1.4M59.25 0v-1.4M60.25 0v-5.8M60.75 0v-8.6M61.25 0v-7.0M61.75 0v-7.3M62.25 0v-7.8M62.75 0v-16.3M63.25 0v-4.4M63.75 0v-14.8M64.25 0v-9.2M64.75 0v-13.1M65.25 0v-12.8M65.75 0v-10.0M66.25 0v-6.3M66.75 0v-8.0M67.25 0v-8.4M67.75 0v-9.9M68.25 0v-13.2M68.75 0v-2.3M69.25 0v-10.4M69.75 0v-12.5M70.25 0v-11.3M70.75 0v-11.7M71.25 0v-16.3M71.75 0v-12.0M72.25 0v-10.8M72.75 0v-8.9M73.25 0v-9.0M73.75 0v-9.7M74.25 0v-3.7M75.25 0v-7.2M75.75 0v-7.0M76.25 0v-8.3M76.75 0v-7.6M77.25 0v-5.0M77.75 0v-8.3M78.25 0v-10.6M78.75 0v-12.4M79.25 0v-12.4M79.75 0v-12.0M80.25 0v-12.5M80.75 0v-14.0M81.25 0v-17.6M81.75 0v-11.6M82.25 0v-14.3M82.75 0v-17.0M83.25 0v-16.8M83.75 0v-7.7M84.25 0v-10.5M84.75 0v-16.8M85.25 0v-7.6M85.75 0v-4.9M86.25 0v-11.4M87.25 0v-7.8M87.75 0v-10.5M88.25 0v-10.8M88.75 0v-11.2M89.25 0v-8.9M89.75 0v-12.5M90.25 0v-3.2M90.75 0v-9.8M91.25 0v-11.6M91.75 0v-10.3M92.25 0v-16.0M92.75 0v-10.0M93.25 0v-10.5M93.75 0v-5.7M94.25 0v-13.7M94.75 0v-13.7M95.25 0v-18.2M95.75 0v-15.0M96.25 0v-9.2M96.75 0v-16.5M97.25 0v-10.3M97.75 0v-5.1M98.25 0v-11.1M98.75 0v-8.8M99.25 0v-12.9M99.75 0v-8.8M100.25 0v-6.0M100.75 0v-6.7M101.25 0v-4.2M101.75 0v-4.9M102.25 0v-7.3M102.75 0v-5.4M103.25 0v-6.1M103.75 0v-12.1M104.25 0v-9.2M104.75 0v-8.4M105.25 0v-3.0M105.75 0v-8.6M106.25 0v-14.7M106.75 0v-7.9M107.25 0v-4.0M107.75 0v-9.4M108.25 0v-8.0M108.75 0v-14.5M109.25 0v-17.0M109.75 0v-17.5M110.25 0v-15.8M110.75 0v-10.3M111.25 0v-10.8M111.75 0v-10.5M112.25 0v-13.5M112.75 0v-8.5M113.25 0v-15.9M113.75 0v-9.3M114.25 0v-0.8M114.75 0v-12.8M115.25 0v-9.9M115.75 0v-14.8M116.25 0v-7.9M116.75 0v-7.2M117.25 0v-12.9M117.75 0v-16.6M118.25 0v-1.5M118.75 0v-10.3M119.25 0v-15.0M119.75 0v-8.2M120.25 0v-12.7M120.75 0v-7.0M121.25 0v-8.6M121.75 0v-7.3M122.25 0v-15.5M122.75 0v-14.3M123.25 0v-18.0M123.75 0v-17.7M124.25 0v-15.0M124.75 0v-13.5M125.25 0v-13.0M125.75 0v-11.8M126.25 0v-13.3M126.75 0v-10.3M127.25 0v-19.1M127.75 0v-13.8M128.25 0v-11.9M128.75 0v-10.8M129.25 0v-11.2M129.75 0v-10.4M130.25 0v-6.1M130.75 0v-15.5M131.25 0v-3.6M135.25 0v-9.5M135.75 0v-11.4M136.25 0v-20.9M136.75 0v-10.9M137.25 0v-14.4M137.75 0v-21.7M138.25 0v-20.7M138.75 0v-16.9M139.25 0v-20.0M139.75 0v-25.9M140.25 0v-17.3M140.75 0v-18.2M141.25 0v-20.7M141.75 0v-20.3M142.25 0v-10.8M142.75 0v-20.9M143.25 0v-26.3M143.75 0v-26.2M144.25 0v-23.3M144.75 0v-20.6M145.25 0v-26.4M145.75 0v-26.5M146.25 0v-24.8M146.75 0v-23.5M147.25 0v-27.2M147.75 0v-29.2M148.25 0v-31.5M148.75 0v-33.1M149.25 0v-31.3M149.75 0v-35.8M150.25 0v-33.6M150.75 0v-33.8M151.25 0v-35.6M151.75 0v-41.9M152.25 0v-37.7M152.75 0v-32.9M153.25 0v-42.6M153.75 0v-34.3M154.25 0v-36.7M154.75 0v-43.8M155.25 0v-39.9M155.75 0v-45.4M156.25 0v-50.4M156.75 0v-49.5M157.25 0v-44.3M157.75 0v-46.7M158.25 0v-51.7M158.75 0v-46.4M159.25 0v-53.0M159.75 0v-51.5M160.25 0v-57.4M160.75 0v-63.1M161.25 0v-57.0M161.75 0v-61.2M162.25 0v-60.1M162.75 0v-59.9M163.25 0v-60.1M163.75 0v-71.4M164.25 0v-62.8M164.75 0v-73.5M165.25 0v-76.5M165.75 0v-73.5M166.25 0v-70.2M166.75 0v-66.2M167.25 0v-72.9M167.75 0v-48.9" stroke="#ff0a85" stroke-width="0.5" stroke-opacity="0.2" fill="none"/>
<path transform="translate(322.5 329.7)" d="M0.75 0v-12.6M1.25 0v-20.7M1.75 0v-19.6M2.25 0v-25.0M2.75 0v-18.5M3.25 0v-17.0M3.75 0v-19.5M4.25 0v-20.7M4.75 0v-17.5M5.25 0v-13.2M5.75 0v-11.0M6.25 0v-21.9M6.75 0v-17.2M7.25 0v-12.1M7.75 0v-16.5M8.25 0v-19.1M8.75 0v-11.3M9.25 0v-12.4M9.75 0v-17.1M10.25 0v-20.4M10.75 0v-13.9M11.25 0v-17.9M11.75 0v-9.6M12.25 0v-20.2M12.75 0v-20.5M13.25 0v-18.5M13.75 0v-16.9M14.25 0v-12.5M14.75 0v-15.7M15.25 0v-20.3M15.75 0v-13.2M16.25 0v-16.4M16.75 0v-14.5M17.25 0v-19.2M17.75 0v-17.6M18.25 0v-15.1M18.75 0v-24.2M19.25 0v-14.2M19.75 0v-19.6M20.25 0v-19.8M20.75 0v-26.0M21.25 0v-21.7M21.75 0v-21.8M22.25 0v-18.6M22.75 0v-23.8M23.25 0v-12.5M23.75 0v-24.8M24.25 0v-25.8M24.75 0v-20.2M25.25 0v-18.3M25.75 0v-28.4M26.25 0v-22.1M26.75 0v-28.3M27.25 0v-25.6M27.75 0v-25.0M28.25 0v-25.4M28.75 0v-22.3M29.25 0v-33.2M29.75 0v-26.9M30.25 0v-30.4M30.75 0v-33.9M31.25 0v-38.1M31.75 0v-37.0M32.25 0v-21.3M32.75 0v-28.8M33.25 0v-23.3M33.75 0v-21.3M34.25 0v-31.5M34.75 0v-22.1M35.25 0v-28.5M35.75 0v-26.9M36.25 0v-23.2M36.75 0v-21.6M37.25 0v-12.3M37.75 0v-21.6M38.25 0v-19.9M38.75 0v-15.7M39.25 0v-3.5M46.25 0v-1.5M46.75 0v-16.0M47.25 0v-18.2M47.75 0v-19.6M48.25 0v-27.0M48.75 0v-16.7M49.25 0v-20.6M49.75 0v-23.7M50.25 0v-16.0M50.75 0v-11.2M51.25 0v-14.7M51.75 0v-17.7M52.25 0v-16.8M52.75 0v-17.6M53.25 0v-7.2M53.75 0v-7.1M54.75 0v-5.2M55.25 0v-3.4M55.75 0v-10.0M56.25 0v-15.1M56.75 0v-5.2M57.25 0v-9.0M57.75 0v-4.2M58.25 0v-7.5M58.75 0v-6.2M59.25 0v-8.1M59.75 0v-10.0M60.25 0v-10.6M60.75 0v-8.8M61.25 0v-9.2M61.75 0v-9.5M62.25 0v-11.0M62.75 0v-9.2M63.25 0v-7.6M63.75 0v-4.2M64.25 0v-4.6M64.75 0v-13.5M65.25 0v-13.9M65.75 0v-10.1M66.25 0v-11.3M66.75 0v-4.0M67.25 0v-5.9M67.75 0v-13.2M68.25 0v-11.8M68.75 0v-2.7M69.25 0v-6.3M69.75 0v-6.4M70.25 0v-10.9M70.75 0v-10.7M71.25 0v-6.3M71.75 0v-4.5M72.25 0v-5.6M72.75 0v-13.5M73.25 0v-5.7M73.75 0v-5.1M74.25 0v-11.9M74.75 0v-3.4M75.25 0v-1.1M75.75 0v-8.0M76.25 0v-14.6M76.75 0v-4.9M77.25 0v-10.9M77.75 0v-10.5M78.25 0v-7.9M78.75 0v-6.7M79.25 0v-11.3M79.75 0v-8.4M80.25 0v-15.5M80.75 0v-11.2M81.25 0v-16.6M81.75 0v-13.9M82.25 0v-12.0M82.75 0v-15.3M83.25 0v-14.1M83.75 0v-12.9M84.25 0v-10.7M84.75 0v-4.8M85.25 0v-10.1M85.75 0v-10.3M86.25 0v-7.8M86.75 0v-5.4M87.25 0v-11.5M87.75 0v-8.9M88.25 0v-5.7M88.75 0v-11.3M89.25 0v-0.8M89.75 0v-8.8M90.25 0v-3.9M90.75 0v-12.3M91.25 0v-9.4M91.75 0v-14.6M92.25 0v-6.5M92.75 0v-4.3M93.25 0v-3.8M93.75 0v-9.8M94.25 0v-10.7M94.75 0v-14.3M95.25 0v-14.9M95.75 0v-16.6M96.25 0v-10.0M96.75 0v-11.6M97.25 0v-6.3M97.75 0v-15.0M98.25 0v-10.7M98.75 0v-11.2M99.25 0v-10.0M99.75 0v-5.7M100.25 0v-7.0M100.75 0v-8.7M101.25 0v-5.6M101.75 0v-9.3M102.25 0v-10.1M102.75 0v-7.5M103.25 0v-9.2M103.75 0v-1.7M104.25 0v-6.2M104.75 0v-10.9M105.25 0v-6.9M105.75 0v-16.1M106.25 0v-20.9M106.75 0v-12.1M107.25 0v-12.5M107.75 0v-13.4M108.25 0v-12.6M108.75 0v-7.8M109.25 0v-21.4M109.75 0v-12.5M110.25 0v-10.0M110.75 0v-14.9M111.25 0v-11.8M111.75 0v-11.6M112.25 0v-9.3M112.75 0v-9.9M113.25 0v-14.9M113.75 0v-10.6M114.25 0v-13.7M114.75 0v-17.2M115.25 0v-8.1M115.75 0v-13.7M116.25 0v-10.0M116.75 0v-15.0M117.25 0v-5.6M117.75 0v-5.4M118.25 0v-11.3M118.75 0v-5.5M119.25 0v-7.4M119.75 0v-9.5M120.25 0v-9.4M120.75 0v-9.9M121.25 0v-8.8M121.75 0v-9.3M122.25 0v-14.9M122.75 0v-6.9M123.25 0v-16.8M123.75 0v-13.0M124.25 0v-21.6M124.75 0v-18.9M125.25 0v-14.9M125.75 0v-15.5M126.25 0v-18.7M126.75 0v-26.6M127.25 0v-7.9M127.75 0v-9.7M128.25 0v-15.1M128.75 0v-9.8M129.25 0v-6.1M129.75 0v-11.3M130.25 0v-10.2M130.75 0v-7.8M131.25 0v-20.8M135.25 0v-15.2M135.75 0v-17.0M136.25 0v-10.5M136.75 0v-14.3M137.25 0v-23.1M137.75 0v-21.4M138.25 0v-17.5M138.75 0v-15.4M139.25 0v-11.9M139.75 0v-19.2M140.25 0v-19.1M140.75 0v-24.2M141.25 0v-15.8M141.75 0v-27.3M142.25 0v-18.1M142.75 0v-21.8M143.25 0v-17.6M143.75 0v-30.6M144.25 0v-27.4M144.75 0v-20.1M145.25 0v-34.5M145.75 0v-25.3M146.25 0v-25.6M146.75 0v-26.3M147.25 0v-18.4M147.75 0v-28.6M148.25 0v-27.9M148.75 0v-22.8M149.25 0v-30.2M149.75 0v-27.9M150.25 0v-36.6M150.75 0v-28.8M151.25 0v-35.0M151.75 0v-32.7M152.25 0v-35.3M152.75 0v-36.8M153.25 0v-41.1M153.75 0v-39.1M154.25 0v-41.2M154.75 0v-40.9M155.25 0v-44.5M155.75 0v-48.6M156.25 0v-44.2M156.75 0v-51.7M157.25 0v-44.6M157.75 0v-51.9M158.25 0v-43.0M158.75 0v-47.0M159.25 0v-54.9M159.75 0v-57.3M160.25 0v-59.7M160.75 0v-57.8M161.25 0v-63.5M161.75 0v-58.2M162.25 0v-66.0M162.75 0v-68.0M163.25 0v-66.8M163.75 0v-63.1M164.25 0v-64.5M164.75 0v-70.4M165.25 0v-73.8M165.75 0v-71.5M166.25 0v-71.5M166.75 0v-69.9M167.25 0v-68.6M167.75 0v-43.7" stroke="#ff0a85" stroke-width="0.5" stroke-opacity="0.2" fill="none"/>
<path transform="translate(322.5 329.7)" d="M0.75-18.3V-22.3M1.25-18.8V-22.4M1.75-16.9V-32.2M2.25-7.3V-33.2M2.75-14.8V-21.2M3.25-1.6V-24.3M3.75-13.6V-25.5M4.25-14.0V-29.5M4.75-17.6V-23.6M5.25-10.3V-36.5M5.75-17.3V-20.1M6.25-11.8V-20.3M6.75-14.4V-24.9M7.25-14.9V-35.0M7.75-9.9V-18.9M8.25-7.1V-20.4M8.75-16.1V-22.3M9.25-10.0V-26.7M9.75-10.0V-19.4M10.25-15.1V-17.7M10.75-12.3V-19.3M11.25-13.8V-17.7M11.75-0.0V-18.5M12.25-14.9V-18.9M12.75-3.5V-25.1M13.25-11.8V-17.5M13.75-15.5V-35.4M14.25-1.8V-36.2M14.75-13.6V-18.2M15.25-12.7V-17.8M15.75-11.3V-22.5M16.25-15.6V-18.6M16.75-10.9V-19.8M17.25-10.9V-19.2M17.75-13.4V-43.7M18.25-7.8V-18.7M18.75-1.2V-30.0M19.25-15.3V-34.5M19.75-11.2V-20.8M20.25-14.2V-42.1M20.75-11.6V-32.9M21.25-16.6V-41.7M21.75-15.0V-24.0M22.25-19.2V-41.4M22.75-16.8V-32.2M23.25-7.1V-30.7M23.75-16.7V-34.2M24.25-13.2V-22.7M24.75-13.4V-24.4M25.25-17.8V-39.8M25.75-22.9V-27.1M26.25-16.3V-28.2M26.75-16.7V-26.4M27.25-22.0V-27.7M27.75-25.7V-39.3M28.25-26.8V-28.3M28.75-17.0V-47.5M29.25-18.8V-38.0M29.75-26.7V-32.4M30.25-29.0V-34.4M30.75-25.3V-35.2M31.25-28.5V-51.9M31.75-29.7V-33.9M32.25-29.7V-44.1M32.75-14.6V-48.9M33.25-27.5V-31.0M33.75-23.3V-41.2M34.25-24.6V-31.0M34.75-22.0V-27.8M35.25-20.0V-31.4M35.75-20.4V-24.7M36.25-20.4V-41.7M36.75-14.5V-23.2M37.25-11.2V-25.5M37.75-20.5V-24.9M38.25-19.8V-21.4M38.75-18.5V-24.7M39.25-0.0V-19.7M46.25-4.6V-7.0M46.75-11.9V-21.5M47.25-19.2V-25.6M47.75-18.9V-21.9M48.25-16.9V-32.5M48.75-15.1V-30.9M49.25-17.2V-35.5M49.75-15.5V-35.3M50.25-14.2V-25.8M50.75-14.2V-31.0M51.25-0.4V-18.1M51.75-14.0V-15.7M52.25-13.3V-21.2M52.75-10.3V-21.3M53.25-11.3V-15.6M53.75-10.2V-17.7M54.25-6.5V-12.6M54.75-0.0V-16.1M55.25-6.4V-12.4M55.75-0.0V-12.4M56.25-0.0V-28.5M56.75-3.0V-9.3M57.25-0.0V-14.4M57.75-0.0V-6.9M58.25-0.0V-8.1M58.75-0.0V-6.8M59.25-0.0V-4.1M59.75-0.0V-5.9M60.25-0.0V-18.4M60.75-0.0V-7.2M61.25-0.0V-10.0M61.75-0.0V-37.8M62.25-0.0V-34.7M62.75-6.4V-12.2M63.25-1.2V-13.1M63.75-5.9V-19.9M64.25-0.9V-14.1M64.75-0.0V-12.9M65.25-7.2V-21.0M65.75-2.0V-12.0M66.25-0.0V-12.5M66.75-3.3V-25.3M67.25-7.3V-23.5M67.75-0.0V-20.9M68.25-3.2V-16.8M68.75-8.9V-24.6M69.25-0.0V-11.8M69.75-5.3V-11.6M70.25-6.9V-15.4M70.75-0.0V-10.7M71.25-0.0V-12.5M71.75-0.0V-11.1M72.25-1.4V-27.3M72.75-8.1V-11.2M73.25-0.0V-11.0M73.75-0.0V-16.1M74.25-4.7V-19.2M74.75-0.0V-9.4M75.25-0.0V-10.2M75.75-0.0V-7.6M76.25-4.8V-29.8M76.75-0.0V-11.0M77.25-0.0V-31.6M77.75-7.7V-29.3M78.25-7.6V-16.6M78.75-9.2V-14.7M79.25-0.0V-19.4M79.75-0.0V-28.0M80.25-0.0V-21.8M80.75-0.0V-27.1M81.25-0.0V-16.0M81.75-4.8V-14.2M82.25-11.1V-15.9M82.75-0.0V-15.5M83.25-4.8V-16.1M83.75-0.0V-14.4M84.25-11.0V-14.2M84.75-1.4V-22.0M85.25-4.7V-15.3M85.75-0.0V-27.9M86.25-0.0V-15.8M86.75-0.0V-10.7M87.25-2.2V-12.5M87.75-0.0V-7.7M88.25-0.0V-30.6M88.75-0.0V-29.3M89.25-0.0V-9.0M89.75-0.0V-9.4M90.25-0.0V-18.0M90.75-0.0V-12.1M91.25-0.0V-11.0M91.75-8.7V-28.6M92.25-0.0V-11.5M92.75-7.7V-23.4M93.25-2.1V-14.0M93.75-8.0V-18.0M94.25-6.7V-15.8M94.75-3.7V-14.5M95.25-2.1V-23.5M95.75-0.0V-13.8M96.25-0.0V-13.9M96.75-9.3V-12.8M97.25-0.0V-12.9M97.75-0.0V-12.5M98.25-0.0V-13.6M98.75-0.0V-25.1M99.25-0.0V-35.2M99.75-2.1V-9.7M100.25-3.8V-9.1M100.75-0.0V-8.5M101.25-0.0V-13.7M101.75-0.0V-8.3M102.25-0.0V-11.8M102.75-1.9V-16.0M103.25-6.2V-9.4M103.75-5.7V-11.5M104.25-0.0V-24.4M104.75-0.0V-11.5M105.25-8.8V-12.7M105.75-0.0V-33.8M106.25-10.0V-15.5M106.75-7.2V-12.0M107.25-10.3V-15.5M107.75-2.5V-14.0M108.25-9.4V-15.7M108.75-0.0V-15.2M109.25-0.0V-20.0M109.75-10.2V-29.1M110.25-10.5V-15.2M110.75-6.1V-14.9M111.25-0.0V-17.1M111.75-3.5V-17.8M112.25-0.0V-37.2M112.75-0.0V-21.6M113.25-8.2V-16.1M113.75-0.0V-13.0M114.25-0.0V-39.8M114.75-8.8V-35.0M115.25-0.0V-11.3M115.75-0.0V-15.7M116.25-2.8V-14.5M116.75-0.0V-19.0M117.25-5.2V-17.2M117.75-0.0V-19.4M118.25-0.0V-11.2M118.75-0.0V-42.1M119.25-0.0V-14.7M119.75-9.9V-14.1M120.25-8.9V-37.6M120.75-0.0V-19.0M121.25-9.9V-14.1M121.75-6.5V-19.1M122.25-0.0V-24.0M122.75-0.0V-16.4M123.25-0.0V-18.3M123.75-13.1V-26.5M124.25-10.8V-21.4M124.75-0.0V-24.7M125.25-0.0V-17.4M125.75-0.0V-35.9M126.25-6.6V-42.7M126.75-0.0V-24.6M127.25-0.0V-17.5M127.75-9.4V-13.4M128.25-5.7V-23.8M128.75-7.5V-14.1M129.25-0.0V-26.7M129.75-0.0V-13.4M130.25-3.5V-13.9M130.75-0.0V-10.7M131.25-2.2V-26.0M131.75 0v-4.1M135.25-0.0V-12.0M135.75-0.0V-13.5M136.25-0.0V-18.3M136.75-8.2V-15.7M137.25-7.4V-27.8M137.75-0.0V-17.6M138.25-0.0V-19.9M138.75-0.0V-22.0M139.25-0.0V-19.1M139.75-0.0V-21.1M140.25-0.0V-20.3M140.75-0.3V-24.5M141.25-0.0V-25.2M141.75-0.0V-25.5M142.25-10.8V-31.2M142.75-0.0V-25.3M143.25-0.0V-35.2M143.75-0.0V-24.5M144.25-0.0V-25.9M144.75-0.0V-28.9M145.25-0.0V-26.4M145.75-2.6V-31.7M146.25-0.0V-27.5M146.75-0.0V-40.0M147.25-0.0V-39.0M147.75-17.0V-32.7M148.25-19.6V-31.9M148.75-0.0V-32.9M149.25-7.3V-40.3M149.75-7.6V-42.2M150.25-0.0V-34.6M150.75-31.9V-36.1M151.25-2.0V-38.8M151.75-0.0V-37.9M152.25-28.8V-38.5M152.75-24.0V-41.4M153.25-0.0V-40.3M153.75-0.0V-43.3M154.25-0.0V-41.9M154.75-0.0V-43.8M155.25-26.7V-44.0M155.75-0.0V-56.6M156.25-0.0V-45.8M156.75-33.0V-51.3M157.25-0.0V-48.7M157.75-0.0V-49.3M158.25-0.0V-50.6M158.75-27.7V-54.0M159.25-0.0V-56.6M159.75-0.0V-55.1M160.25-0.0V-60.3M160.75-0.0V-62.0M161.25-3.4V-61.9M161.75-18.0V-66.1M162.25-0.0V-69.9M162.75-0.0V-67.3M163.25-42.9V-69.5M163.75-0.0V-69.5M164.25-0.0V-76.0M164.75-12.9V-74.2M165.25-0.0V-79.5M165.75-44.1V-75.7M166.25-16.2V-71.6M166.75-38.5V-72.3M167.25-0.0V-70.4M167.75-24.3V-53.4" stroke="#ff0a85" stroke-width="0.5" stroke-opacity="0.7" fill="none"/>
<path d="M539.6 236.0V329.7" fill="none" stroke="#7a7a7a" stroke-width="1"/>
<path d="M322.5 236.0H540.1" fill="none" stroke="#555" stroke-width="1"/>
<path d="M322.5 329.7H540.1" fill="none" stroke="#333" stroke-width="1.1"/>
<path d="M322.5 235.5V330.2" fill="none" stroke="#111" stroke-width="1.4"/>
<path d="M319.3 329.70H322.5M320.8 324.06H322.5M320.8 320.76H322.5M320.8 318.42H322.5M320.8 316.60H322.5M320.8 315.12H322.5M320.8 313.86H322.5M320.8 312.78H322.5M320.8 311.82H322.5M319.3 310.96H322.5M320.8 305.32H322.5M320.8 302.02H322.5M320.8 299.68H322.5M320.8 297.86H322.5M320.8 296.38H322.5M320.8 295.12H322.5M320.8 294.04H322.5M320.8 293.08H322.5M319.3 292.22H322.5M320.8 286.58H322.5M320.8 283.28H322.5M320.8 280.94H322.5M320.8 279.12H322.5M320.8 277.64H322.5M320.8 276.38H322.5M320.8 275.30H322.5M320.8 274.34H322.5M319.3 273.48H322.5M320.8 267.84H322.5M320.8 264.54H322.5M320.8 262.20H322.5M320.8 260.38H322.5M320.8 258.90H322.5M320.8 257.64H322.5M320.8 256.56H322.5M320.8 255.60H322.5M319.3 254.74H322.5M320.8 249.10H322.5M320.8 245.80H322.5M320.8 243.46H322.5M320.8 241.64H322.5M320.8 240.16H322.5M320.8 238.90H322.5M320.8 237.82H322.5M320.8 236.86H322.5M319.3 236.00H322.5" stroke="#1a1a1a" stroke-width="0.7" fill="none"/>
<path d="M322.50 329.7v3.0M336.97 329.7v1.6M351.45 329.7v1.6M365.92 329.7v1.6M380.39 329.7v1.6M394.87 329.7v3.0M409.34 329.7v1.6M423.81 329.7v1.6M438.29 329.7v1.6M452.76 329.7v1.6M467.23 329.7v3.0M481.71 329.7v1.6M496.18 329.7v1.6M510.65 329.7v1.6M525.13 329.7v1.6M539.60 329.7v3.0" stroke="#333" stroke-width="0.8" fill="none"/>
<text x="304.7" y="333.0" font-family="Liberation Sans, sans-serif" font-size="9.3" letter-spacing="-0.3" fill="#1a1a1a" stroke="#1a1a1a" stroke-width="0.15">10</text>
<text x="314.3" y="328.8" font-family="Liberation Sans, sans-serif" font-size="6.3" fill="#1a1a1a" stroke="#1a1a1a" stroke-width="0.1">1</text>
<text x="304.7" y="314.3" font-family="Liberation Sans, sans-serif" font-size="9.3" letter-spacing="-0.3" fill="#1a1a1a" stroke="#1a1a1a" stroke-width="0.15">10</text>
<text x="314.3" y="310.1" font-family="Liberation Sans, sans-serif" font-size="6.3" fill="#1a1a1a" stroke="#1a1a1a" stroke-width="0.1">2</text>
<text x="304.7" y="295.5" font-family="Liberation Sans, sans-serif" font-size="9.3" letter-spacing="-0.3" fill="#1a1a1a" stroke="#1a1a1a" stroke-width="0.15">10</text>
<text x="314.3" y="291.3" font-family="Liberation Sans, sans-serif" font-size="6.3" fill="#1a1a1a" stroke="#1a1a1a" stroke-width="0.1">3</text>
<text x="304.7" y="276.8" font-family="Liberation Sans, sans-serif" font-size="9.3" letter-spacing="-0.3" fill="#1a1a1a" stroke="#1a1a1a" stroke-width="0.15">10</text>
<text x="314.3" y="272.6" font-family="Liberation Sans, sans-serif" font-size="6.3" fill="#1a1a1a" stroke="#1a1a1a" stroke-width="0.1">4</text>
<text x="304.7" y="258.0" font-family="Liberation Sans, sans-serif" font-size="9.3" letter-spacing="-0.3" fill="#1a1a1a" stroke="#1a1a1a" stroke-width="0.15">10</text>
<text x="314.3" y="253.8" font-family="Liberation Sans, sans-serif" font-size="6.3" fill="#1a1a1a" stroke="#1a1a1a" stroke-width="0.1">5</text>
<text x="304.7" y="239.3" font-family="Liberation Sans, sans-serif" font-size="9.3" letter-spacing="-0.3" fill="#1a1a1a" stroke="#1a1a1a" stroke-width="0.15">10</text>
<text x="314.3" y="235.1" font-family="Liberation Sans, sans-serif" font-size="6.3" fill="#1a1a1a" stroke="#1a1a1a" stroke-width="0.1">6</text>
<rect x="329.1" y="240.5" width="40.3" height="13.6" fill="#fff" stroke="#8a8a8a" stroke-width="0.7"/>
<text x="330.5" y="250.8" font-family="Liberation Sans, sans-serif" font-size="9.25" fill="#111" stroke="#111" stroke-width="0.25">Droplet 3</text>
</g>
<text x="36.3" y="343.0" text-anchor="middle" font-family="Liberation Sans, sans-serif" font-size="9.8" letter-spacing="-0.2" fill="#1a1a1a" stroke="#1a1a1a" stroke-width="0.15">0.0</text>
<text x="93.3" y="343.0" text-anchor="middle" font-family="Liberation Sans, sans-serif" font-size="9.8" letter-spacing="-0.2" fill="#1a1a1a" stroke="#1a1a1a" stroke-width="0.15">0.5</text>
<text x="150.3" y="343.0" text-anchor="middle" font-family="Liberation Sans, sans-serif" font-size="9.8" letter-spacing="-0.2" fill="#1a1a1a" stroke="#1a1a1a" stroke-width="0.15">1.0</text>
<text x="207.3" y="343.0" text-anchor="middle" font-family="Liberation Sans, sans-serif" font-size="9.8" letter-spacing="-0.2" fill="#1a1a1a" stroke="#1a1a1a" stroke-width="0.15">1.5</text>
<text x="264.3" y="343.0" text-anchor="middle" font-family="Liberation Sans, sans-serif" font-size="9.8" letter-spacing="-0.2" fill="#1a1a1a" stroke="#1a1a1a" stroke-width="0.15">2.0</text>
<text x="152.6" y="354.5" text-anchor="middle" font-family="Liberation Sans, sans-serif" font-size="10.3" fill="#111" stroke="#111" stroke-width="0.2">Time [ms]</text>
<text x="322.8" y="341.2" text-anchor="middle" font-family="Liberation Sans, sans-serif" font-size="9.8" letter-spacing="-0.2" fill="#1a1a1a" stroke="#1a1a1a" stroke-width="0.15">0.0</text>
<text x="395.2" y="341.2" text-anchor="middle" font-family="Liberation Sans, sans-serif" font-size="9.8" letter-spacing="-0.2" fill="#1a1a1a" stroke="#1a1a1a" stroke-width="0.15">0.5</text>
<text x="467.5" y="341.2" text-anchor="middle" font-family="Liberation Sans, sans-serif" font-size="9.8" letter-spacing="-0.2" fill="#1a1a1a" stroke="#1a1a1a" stroke-width="0.15">1.0</text>
<text x="539.9" y="341.2" text-anchor="middle" font-family="Liberation Sans, sans-serif" font-size="9.8" letter-spacing="-0.2" fill="#1a1a1a" stroke="#1a1a1a" stroke-width="0.15">1.5</text>
<text x="431.7" y="351.7" text-anchor="middle" font-family="Liberation Sans, sans-serif" font-size="10.3" fill="#111" stroke="#111" stroke-width="0.2">Time [ms]</text>
<text transform="translate(13.4 170.8) rotate(-90)" text-anchor="middle" font-family="Liberation Sans, sans-serif" font-size="10.3" fill="#111" stroke="#111" stroke-width="0.2">Elongation stress [Pa]</text>
<text transform="translate(299.6 171.5) rotate(-90)" text-anchor="middle" font-family="Liberation Sans, sans-serif" font-size="10.0" fill="#111" stroke="#111" stroke-width="0.2">Elongation stress [Pa]</text>
<text x="140.1" y="374.8" text-anchor="middle" font-family="Liberation Serif, serif" font-size="12.5" fill="#111">(<tspan font-weight="bold">a</tspan>)</text>
<text x="420.5" y="374.0" text-anchor="middle" font-family="Liberation Serif, serif" font-size="12.5" fill="#111">(<tspan font-weight="bold">b</tspan>)</text>
</svg>
</body></html>
